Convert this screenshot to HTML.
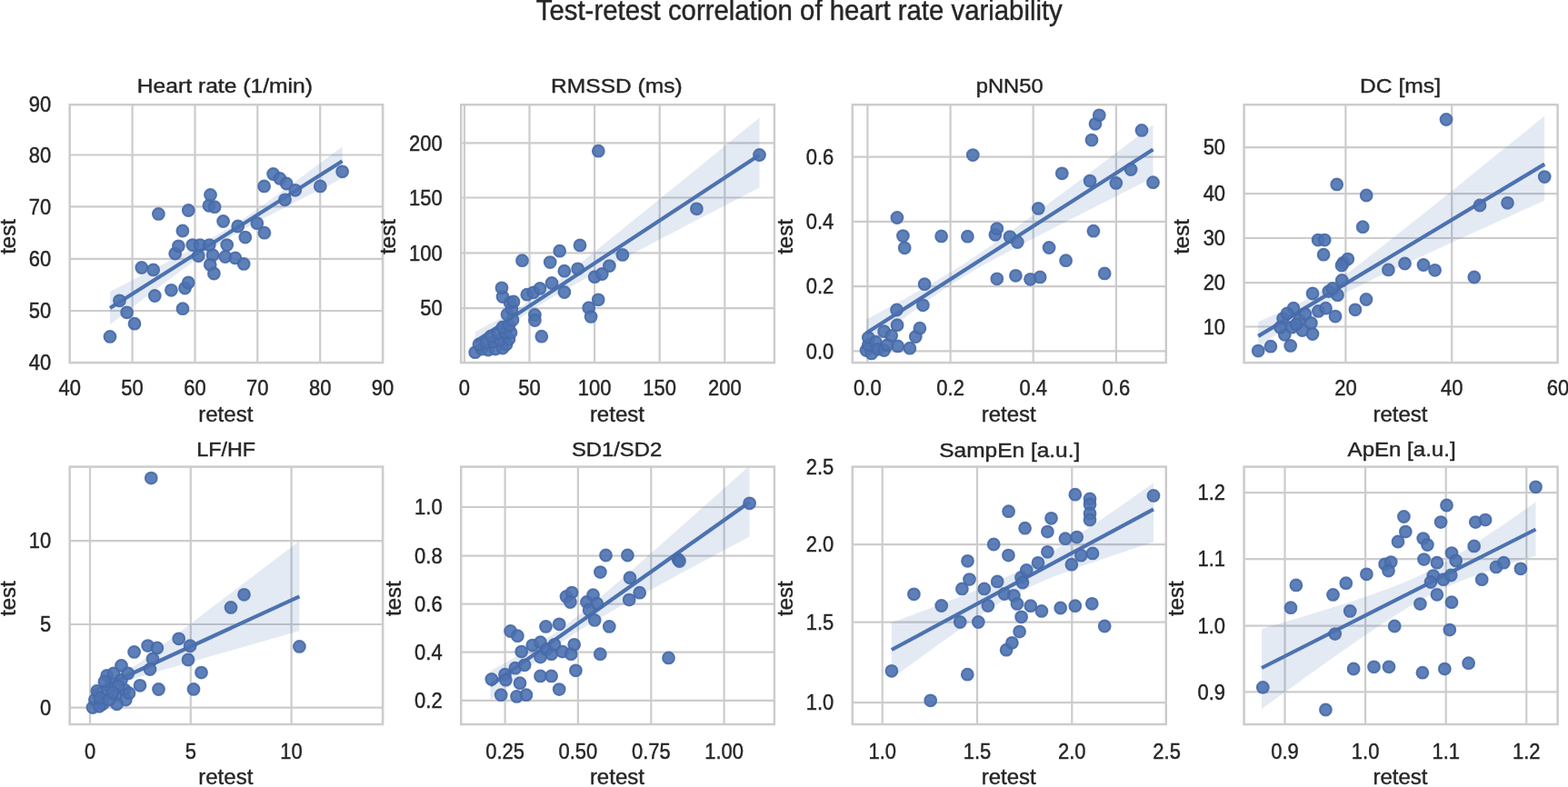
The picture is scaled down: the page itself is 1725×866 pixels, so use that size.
<!DOCTYPE html>
<html><head><meta charset="utf-8"><title>Test-retest correlation of heart rate variability</title>
<style>
html,body{margin:0;padding:0;background:#fff;}
body{width:1725px;height:866px;overflow:hidden;}
svg{display:block;font-family:"Liberation Sans",Arial,Helvetica,sans-serif;}
text{stroke:#262626;stroke-width:0.4px;}
</style></head><body>
<svg width="1725" height="866" viewBox="0 0 1725 866">
<rect width="1725" height="866" fill="#ffffff"/>
<text x="589.8" y="0" font-size="29.40" textLength="579.0" lengthAdjust="spacingAndGlyphs" fill="#262626" transform="translate(0,21.8) scale(1,1.05)">Test-retest correlation of heart rate variability</text>
<g>
<line x1="145.6" y1="115.2" x2="145.6" y2="399.1" stroke="#cccccc" stroke-width="2.2"/>
<line x1="214.5" y1="115.2" x2="214.5" y2="399.1" stroke="#cccccc" stroke-width="2.2"/>
<line x1="283.3" y1="115.2" x2="283.3" y2="399.1" stroke="#cccccc" stroke-width="2.2"/>
<line x1="352.2" y1="115.2" x2="352.2" y2="399.1" stroke="#cccccc" stroke-width="2.2"/>
<line x1="76.7" y1="342.0" x2="421.1" y2="342.0" stroke="#cccccc" stroke-width="2.2"/>
<line x1="76.7" y1="284.9" x2="421.1" y2="284.9" stroke="#cccccc" stroke-width="2.2"/>
<line x1="76.7" y1="227.3" x2="421.1" y2="227.3" stroke="#cccccc" stroke-width="2.2"/>
<line x1="76.7" y1="170.5" x2="421.1" y2="170.5" stroke="#cccccc" stroke-width="2.2"/>
<polygon points="121.0,321.0 127.6,317.6 134.1,314.3 140.7,310.9 147.2,307.5 153.8,304.2 160.3,300.8 166.9,297.4 173.4,294.0 180.0,290.5 186.5,287.1 193.1,283.7 199.6,280.2 206.2,276.7 212.8,273.2 219.3,269.6 225.9,266.0 232.4,262.3 239.0,258.5 245.5,254.6 252.1,250.6 258.6,246.5 265.2,242.3 271.7,237.9 278.3,233.4 284.8,228.9 291.4,224.3 298.0,219.6 304.5,214.8 311.1,210.1 317.6,205.3 324.2,200.4 330.7,195.6 337.3,190.7 343.8,185.8 350.4,180.9 356.9,176.0 363.5,171.1 370.0,166.2 376.6,161.3 376.6,196.3 370.0,199.6 363.5,202.9 356.9,206.2 350.4,209.4 343.8,212.7 337.3,216.1 330.7,219.4 324.2,222.7 317.6,226.0 311.1,229.4 304.5,232.8 298.0,236.2 291.4,239.6 284.8,243.1 278.3,246.6 271.7,250.2 265.2,253.9 258.6,257.7 252.1,261.6 245.5,265.7 239.0,269.9 232.4,274.2 225.9,278.7 219.3,283.3 212.8,288.0 206.2,292.8 199.6,297.6 193.1,302.4 186.5,307.3 180.0,312.2 173.4,317.1 166.9,322.1 160.3,327.0 153.8,332.0 147.2,337.0 140.7,342.0 134.1,347.0 127.6,352.0 121.0,357.0" fill="#4C72B0" fill-opacity="0.15"/>
<line x1="121.0" y1="339.0" x2="376.6" y2="177.3" stroke="#4C72B0" stroke-width="4.2" stroke-linecap="butt"/>
<circle cx="121.0" cy="370.4" r="6.4" fill="#4C72B0" fill-opacity="0.9" stroke="#4769a8" stroke-opacity="0.9" stroke-width="2"/>
<circle cx="148.0" cy="356.2" r="6.4" fill="#4C72B0" fill-opacity="0.9" stroke="#4769a8" stroke-opacity="0.9" stroke-width="2"/>
<circle cx="139.6" cy="343.8" r="6.4" fill="#4C72B0" fill-opacity="0.9" stroke="#4769a8" stroke-opacity="0.9" stroke-width="2"/>
<circle cx="131.5" cy="330.8" r="6.4" fill="#4C72B0" fill-opacity="0.9" stroke="#4769a8" stroke-opacity="0.9" stroke-width="2"/>
<circle cx="170.3" cy="325.5" r="6.4" fill="#4C72B0" fill-opacity="0.9" stroke="#4769a8" stroke-opacity="0.9" stroke-width="2"/>
<circle cx="188.4" cy="319.3" r="6.4" fill="#4C72B0" fill-opacity="0.9" stroke="#4769a8" stroke-opacity="0.9" stroke-width="2"/>
<circle cx="201.0" cy="339.7" r="6.4" fill="#4C72B0" fill-opacity="0.9" stroke="#4769a8" stroke-opacity="0.9" stroke-width="2"/>
<circle cx="203.5" cy="317.1" r="6.4" fill="#4C72B0" fill-opacity="0.9" stroke="#4769a8" stroke-opacity="0.9" stroke-width="2"/>
<circle cx="207.2" cy="311.0" r="6.4" fill="#4C72B0" fill-opacity="0.9" stroke="#4769a8" stroke-opacity="0.9" stroke-width="2"/>
<circle cx="155.8" cy="294.5" r="6.4" fill="#4C72B0" fill-opacity="0.9" stroke="#4769a8" stroke-opacity="0.9" stroke-width="2"/>
<circle cx="168.7" cy="296.9" r="6.4" fill="#4C72B0" fill-opacity="0.9" stroke="#4769a8" stroke-opacity="0.9" stroke-width="2"/>
<circle cx="192.7" cy="279.0" r="6.4" fill="#4C72B0" fill-opacity="0.9" stroke="#4769a8" stroke-opacity="0.9" stroke-width="2"/>
<circle cx="196.4" cy="270.8" r="6.4" fill="#4C72B0" fill-opacity="0.9" stroke="#4769a8" stroke-opacity="0.9" stroke-width="2"/>
<circle cx="200.9" cy="254.0" r="6.4" fill="#4C72B0" fill-opacity="0.9" stroke="#4769a8" stroke-opacity="0.9" stroke-width="2"/>
<circle cx="211.8" cy="269.6" r="6.4" fill="#4C72B0" fill-opacity="0.9" stroke="#4769a8" stroke-opacity="0.9" stroke-width="2"/>
<circle cx="220.1" cy="269.6" r="6.4" fill="#4C72B0" fill-opacity="0.9" stroke="#4769a8" stroke-opacity="0.9" stroke-width="2"/>
<circle cx="230.3" cy="269.6" r="6.4" fill="#4C72B0" fill-opacity="0.9" stroke="#4769a8" stroke-opacity="0.9" stroke-width="2"/>
<circle cx="218.3" cy="281.6" r="6.4" fill="#4C72B0" fill-opacity="0.9" stroke="#4769a8" stroke-opacity="0.9" stroke-width="2"/>
<circle cx="234.0" cy="280.7" r="6.4" fill="#4C72B0" fill-opacity="0.9" stroke="#4769a8" stroke-opacity="0.9" stroke-width="2"/>
<circle cx="231.2" cy="291.3" r="6.4" fill="#4C72B0" fill-opacity="0.9" stroke="#4769a8" stroke-opacity="0.9" stroke-width="2"/>
<circle cx="235.4" cy="301.0" r="6.4" fill="#4C72B0" fill-opacity="0.9" stroke="#4769a8" stroke-opacity="0.9" stroke-width="2"/>
<circle cx="249.7" cy="269.6" r="6.4" fill="#4C72B0" fill-opacity="0.9" stroke="#4769a8" stroke-opacity="0.9" stroke-width="2"/>
<circle cx="247.8" cy="282.5" r="6.4" fill="#4C72B0" fill-opacity="0.9" stroke="#4769a8" stroke-opacity="0.9" stroke-width="2"/>
<circle cx="258.9" cy="283.9" r="6.4" fill="#4C72B0" fill-opacity="0.9" stroke="#4769a8" stroke-opacity="0.9" stroke-width="2"/>
<circle cx="268.2" cy="290.4" r="6.4" fill="#4C72B0" fill-opacity="0.9" stroke="#4769a8" stroke-opacity="0.9" stroke-width="2"/>
<circle cx="245.6" cy="243.5" r="6.4" fill="#4C72B0" fill-opacity="0.9" stroke="#4769a8" stroke-opacity="0.9" stroke-width="2"/>
<circle cx="261.7" cy="249.0" r="6.4" fill="#4C72B0" fill-opacity="0.9" stroke="#4769a8" stroke-opacity="0.9" stroke-width="2"/>
<circle cx="269.8" cy="261.1" r="6.4" fill="#4C72B0" fill-opacity="0.9" stroke="#4769a8" stroke-opacity="0.9" stroke-width="2"/>
<circle cx="174.4" cy="235.4" r="6.4" fill="#4C72B0" fill-opacity="0.9" stroke="#4769a8" stroke-opacity="0.9" stroke-width="2"/>
<circle cx="207.3" cy="231.5" r="6.4" fill="#4C72B0" fill-opacity="0.9" stroke="#4769a8" stroke-opacity="0.9" stroke-width="2"/>
<circle cx="231.5" cy="214.5" r="6.4" fill="#4C72B0" fill-opacity="0.9" stroke="#4769a8" stroke-opacity="0.9" stroke-width="2"/>
<circle cx="229.9" cy="226.3" r="6.4" fill="#4C72B0" fill-opacity="0.9" stroke="#4769a8" stroke-opacity="0.9" stroke-width="2"/>
<circle cx="236.1" cy="227.7" r="6.4" fill="#4C72B0" fill-opacity="0.9" stroke="#4769a8" stroke-opacity="0.9" stroke-width="2"/>
<circle cx="282.8" cy="245.7" r="6.4" fill="#4C72B0" fill-opacity="0.9" stroke="#4769a8" stroke-opacity="0.9" stroke-width="2"/>
<circle cx="290.9" cy="256.2" r="6.4" fill="#4C72B0" fill-opacity="0.9" stroke="#4769a8" stroke-opacity="0.9" stroke-width="2"/>
<circle cx="290.6" cy="204.9" r="6.4" fill="#4C72B0" fill-opacity="0.9" stroke="#4769a8" stroke-opacity="0.9" stroke-width="2"/>
<circle cx="300.6" cy="191.5" r="6.4" fill="#4C72B0" fill-opacity="0.9" stroke="#4769a8" stroke-opacity="0.9" stroke-width="2"/>
<circle cx="307.9" cy="196.4" r="6.4" fill="#4C72B0" fill-opacity="0.9" stroke="#4769a8" stroke-opacity="0.9" stroke-width="2"/>
<circle cx="315.2" cy="202.0" r="6.4" fill="#4C72B0" fill-opacity="0.9" stroke="#4769a8" stroke-opacity="0.9" stroke-width="2"/>
<circle cx="324.8" cy="209.3" r="6.4" fill="#4C72B0" fill-opacity="0.9" stroke="#4769a8" stroke-opacity="0.9" stroke-width="2"/>
<circle cx="313.5" cy="219.8" r="6.4" fill="#4C72B0" fill-opacity="0.9" stroke="#4769a8" stroke-opacity="0.9" stroke-width="2"/>
<circle cx="352.3" cy="204.9" r="6.4" fill="#4C72B0" fill-opacity="0.9" stroke="#4769a8" stroke-opacity="0.9" stroke-width="2"/>
<circle cx="376.6" cy="188.8" r="6.4" fill="#4C72B0" fill-opacity="0.9" stroke="#4769a8" stroke-opacity="0.9" stroke-width="2"/>
<rect x="76.7" y="115.2" width="344.4" height="283.9" fill="none" stroke="#cccccc" stroke-width="2.5"/>
<text x="0" y="0" font-size="22" text-anchor="middle" fill="#262626" transform="translate(76.7,434.6) scale(1,1.110)">40</text>
<text x="0" y="0" font-size="22" text-anchor="middle" fill="#262626" transform="translate(145.6,434.6) scale(1,1.110)">50</text>
<text x="0" y="0" font-size="22" text-anchor="middle" fill="#262626" transform="translate(214.5,434.6) scale(1,1.110)">60</text>
<text x="0" y="0" font-size="22" text-anchor="middle" fill="#262626" transform="translate(283.3,434.6) scale(1,1.110)">70</text>
<text x="0" y="0" font-size="22" text-anchor="middle" fill="#262626" transform="translate(352.2,434.6) scale(1,1.110)">80</text>
<text x="0" y="0" font-size="22" text-anchor="middle" fill="#262626" transform="translate(421.1,434.6) scale(1,1.110)">90</text>
<text x="0" y="0" font-size="22" text-anchor="end" fill="#262626" transform="translate(56.2,407.3) scale(1,1.110)">40</text>
<text x="0" y="0" font-size="22" text-anchor="end" fill="#262626" transform="translate(56.2,350.2) scale(1,1.110)">50</text>
<text x="0" y="0" font-size="22" text-anchor="end" fill="#262626" transform="translate(56.2,293.1) scale(1,1.110)">60</text>
<text x="0" y="0" font-size="22" text-anchor="end" fill="#262626" transform="translate(56.2,235.5) scale(1,1.110)">70</text>
<text x="0" y="0" font-size="22" text-anchor="end" fill="#262626" transform="translate(56.2,178.7) scale(1,1.110)">80</text>
<text x="0" y="0" font-size="22" text-anchor="end" fill="#262626" transform="translate(56.2,123.4) scale(1,1.110)">90</text>
<text x="248.3" y="463.5" font-size="24" text-anchor="middle" fill="#262626">retest</text>
<text x="0" y="0" font-size="24" text-anchor="middle" fill="#262626" transform="translate(16.5,260.5) rotate(-90)">test</text>
<text x="150.8" y="101.8" font-size="21.6" textLength="193.2" lengthAdjust="spacingAndGlyphs" fill="#262626">Heart rate (1/min)</text>
</g>
<g>
<line x1="510.9" y1="115.2" x2="510.9" y2="399.1" stroke="#cccccc" stroke-width="2.2"/>
<line x1="582.5" y1="115.2" x2="582.5" y2="399.1" stroke="#cccccc" stroke-width="2.2"/>
<line x1="654.1" y1="115.2" x2="654.1" y2="399.1" stroke="#cccccc" stroke-width="2.2"/>
<line x1="725.7" y1="115.2" x2="725.7" y2="399.1" stroke="#cccccc" stroke-width="2.2"/>
<line x1="797.3" y1="115.2" x2="797.3" y2="399.1" stroke="#cccccc" stroke-width="2.2"/>
<line x1="507.2" y1="339.1" x2="851.9" y2="339.1" stroke="#cccccc" stroke-width="2.2"/>
<line x1="507.2" y1="278.3" x2="851.9" y2="278.3" stroke="#cccccc" stroke-width="2.2"/>
<line x1="507.2" y1="217.5" x2="851.9" y2="217.5" stroke="#cccccc" stroke-width="2.2"/>
<line x1="507.2" y1="157.3" x2="851.9" y2="157.3" stroke="#cccccc" stroke-width="2.2"/>
<polygon points="522.7,365.0 530.7,360.8 538.7,356.6 546.8,352.4 554.8,348.0 562.8,343.5 570.8,338.8 578.8,333.8 586.9,328.5 594.9,322.9 602.9,317.1 610.9,311.1 618.9,304.9 627.0,298.6 635.0,292.3 643.0,285.9 651.0,279.5 659.0,273.1 667.1,266.6 675.1,260.1 683.1,253.6 691.1,247.1 699.2,240.6 707.2,234.1 715.2,227.6 723.2,221.1 731.2,214.5 739.3,208.0 747.3,201.5 755.3,194.9 763.3,188.4 771.3,181.9 779.4,175.3 787.4,168.8 795.4,162.2 803.4,155.7 811.4,149.1 819.5,142.6 827.5,136.0 835.5,129.5 835.5,206.5 827.5,210.6 819.5,214.8 811.4,219.0 803.4,223.1 795.4,227.3 787.4,231.4 779.4,235.6 771.3,239.7 763.3,243.9 755.3,248.1 747.3,252.2 739.3,256.4 731.2,260.6 723.2,264.8 715.2,269.0 707.2,273.2 699.2,277.4 691.1,281.6 683.1,285.8 675.1,290.1 667.1,294.3 659.0,298.6 651.0,302.9 643.0,307.3 635.0,311.7 627.0,316.1 618.9,320.7 610.9,325.3 602.9,330.1 594.9,335.1 586.9,340.2 578.8,345.6 570.8,351.1 562.8,356.8 554.8,362.7 546.8,368.6 538.7,374.7 530.7,380.8 522.7,387.0" fill="#4C72B0" fill-opacity="0.15"/>
<line x1="522.7" y1="376.0" x2="835.5" y2="170.5" stroke="#4C72B0" stroke-width="4.2" stroke-linecap="butt"/>
<circle cx="522.7" cy="387.7" r="6.4" fill="#4C72B0" fill-opacity="0.9" stroke="#4769a8" stroke-opacity="0.9" stroke-width="2"/>
<circle cx="530.0" cy="384.0" r="6.4" fill="#4C72B0" fill-opacity="0.9" stroke="#4769a8" stroke-opacity="0.9" stroke-width="2"/>
<circle cx="537.0" cy="385.0" r="6.4" fill="#4C72B0" fill-opacity="0.9" stroke="#4769a8" stroke-opacity="0.9" stroke-width="2"/>
<circle cx="545.0" cy="384.0" r="6.4" fill="#4C72B0" fill-opacity="0.9" stroke="#4769a8" stroke-opacity="0.9" stroke-width="2"/>
<circle cx="553.0" cy="383.0" r="6.4" fill="#4C72B0" fill-opacity="0.9" stroke="#4769a8" stroke-opacity="0.9" stroke-width="2"/>
<circle cx="557.0" cy="379.0" r="6.4" fill="#4C72B0" fill-opacity="0.9" stroke="#4769a8" stroke-opacity="0.9" stroke-width="2"/>
<circle cx="527.0" cy="379.0" r="6.4" fill="#4C72B0" fill-opacity="0.9" stroke="#4769a8" stroke-opacity="0.9" stroke-width="2"/>
<circle cx="535.0" cy="377.0" r="6.4" fill="#4C72B0" fill-opacity="0.9" stroke="#4769a8" stroke-opacity="0.9" stroke-width="2"/>
<circle cx="543.0" cy="376.0" r="6.4" fill="#4C72B0" fill-opacity="0.9" stroke="#4769a8" stroke-opacity="0.9" stroke-width="2"/>
<circle cx="550.0" cy="374.0" r="6.4" fill="#4C72B0" fill-opacity="0.9" stroke="#4769a8" stroke-opacity="0.9" stroke-width="2"/>
<circle cx="560.0" cy="373.0" r="6.4" fill="#4C72B0" fill-opacity="0.9" stroke="#4769a8" stroke-opacity="0.9" stroke-width="2"/>
<circle cx="540.0" cy="370.0" r="6.4" fill="#4C72B0" fill-opacity="0.9" stroke="#4769a8" stroke-opacity="0.9" stroke-width="2"/>
<circle cx="548.0" cy="367.0" r="6.4" fill="#4C72B0" fill-opacity="0.9" stroke="#4769a8" stroke-opacity="0.9" stroke-width="2"/>
<circle cx="556.0" cy="366.0" r="6.4" fill="#4C72B0" fill-opacity="0.9" stroke="#4769a8" stroke-opacity="0.9" stroke-width="2"/>
<circle cx="562.0" cy="366.0" r="6.4" fill="#4C72B0" fill-opacity="0.9" stroke="#4769a8" stroke-opacity="0.9" stroke-width="2"/>
<circle cx="553.0" cy="360.0" r="6.4" fill="#4C72B0" fill-opacity="0.9" stroke="#4769a8" stroke-opacity="0.9" stroke-width="2"/>
<circle cx="560.0" cy="358.0" r="6.4" fill="#4C72B0" fill-opacity="0.9" stroke="#4769a8" stroke-opacity="0.9" stroke-width="2"/>
<circle cx="564.0" cy="352.0" r="6.4" fill="#4C72B0" fill-opacity="0.9" stroke="#4769a8" stroke-opacity="0.9" stroke-width="2"/>
<circle cx="558.0" cy="346.0" r="6.4" fill="#4C72B0" fill-opacity="0.9" stroke="#4769a8" stroke-opacity="0.9" stroke-width="2"/>
<circle cx="563.0" cy="340.0" r="6.4" fill="#4C72B0" fill-opacity="0.9" stroke="#4769a8" stroke-opacity="0.9" stroke-width="2"/>
<circle cx="561.0" cy="333.0" r="6.4" fill="#4C72B0" fill-opacity="0.9" stroke="#4769a8" stroke-opacity="0.9" stroke-width="2"/>
<circle cx="553.0" cy="326.5" r="6.4" fill="#4C72B0" fill-opacity="0.9" stroke="#4769a8" stroke-opacity="0.9" stroke-width="2"/>
<circle cx="552.0" cy="316.8" r="6.4" fill="#4C72B0" fill-opacity="0.9" stroke="#4769a8" stroke-opacity="0.9" stroke-width="2"/>
<circle cx="565.0" cy="332.0" r="6.4" fill="#4C72B0" fill-opacity="0.9" stroke="#4769a8" stroke-opacity="0.9" stroke-width="2"/>
<circle cx="574.5" cy="286.7" r="6.4" fill="#4C72B0" fill-opacity="0.9" stroke="#4769a8" stroke-opacity="0.9" stroke-width="2"/>
<circle cx="579.8" cy="324.2" r="6.4" fill="#4C72B0" fill-opacity="0.9" stroke="#4769a8" stroke-opacity="0.9" stroke-width="2"/>
<circle cx="586.8" cy="321.8" r="6.4" fill="#4C72B0" fill-opacity="0.9" stroke="#4769a8" stroke-opacity="0.9" stroke-width="2"/>
<circle cx="594.0" cy="317.4" r="6.4" fill="#4C72B0" fill-opacity="0.9" stroke="#4769a8" stroke-opacity="0.9" stroke-width="2"/>
<circle cx="588.4" cy="346.5" r="6.4" fill="#4C72B0" fill-opacity="0.9" stroke="#4769a8" stroke-opacity="0.9" stroke-width="2"/>
<circle cx="588.4" cy="352.5" r="6.4" fill="#4C72B0" fill-opacity="0.9" stroke="#4769a8" stroke-opacity="0.9" stroke-width="2"/>
<circle cx="595.8" cy="370.2" r="6.4" fill="#4C72B0" fill-opacity="0.9" stroke="#4769a8" stroke-opacity="0.9" stroke-width="2"/>
<circle cx="605.2" cy="288.6" r="6.4" fill="#4C72B0" fill-opacity="0.9" stroke="#4769a8" stroke-opacity="0.9" stroke-width="2"/>
<circle cx="607.0" cy="311.5" r="6.4" fill="#4C72B0" fill-opacity="0.9" stroke="#4769a8" stroke-opacity="0.9" stroke-width="2"/>
<circle cx="615.7" cy="276.2" r="6.4" fill="#4C72B0" fill-opacity="0.9" stroke="#4769a8" stroke-opacity="0.9" stroke-width="2"/>
<circle cx="620.8" cy="298.2" r="6.4" fill="#4C72B0" fill-opacity="0.9" stroke="#4769a8" stroke-opacity="0.9" stroke-width="2"/>
<circle cx="620.9" cy="321.5" r="6.4" fill="#4C72B0" fill-opacity="0.9" stroke="#4769a8" stroke-opacity="0.9" stroke-width="2"/>
<circle cx="635.6" cy="295.8" r="6.4" fill="#4C72B0" fill-opacity="0.9" stroke="#4769a8" stroke-opacity="0.9" stroke-width="2"/>
<circle cx="638.0" cy="269.9" r="6.4" fill="#4C72B0" fill-opacity="0.9" stroke="#4769a8" stroke-opacity="0.9" stroke-width="2"/>
<circle cx="654.2" cy="304.7" r="6.4" fill="#4C72B0" fill-opacity="0.9" stroke="#4769a8" stroke-opacity="0.9" stroke-width="2"/>
<circle cx="662.3" cy="301.5" r="6.4" fill="#4C72B0" fill-opacity="0.9" stroke="#4769a8" stroke-opacity="0.9" stroke-width="2"/>
<circle cx="670.4" cy="292.6" r="6.4" fill="#4C72B0" fill-opacity="0.9" stroke="#4769a8" stroke-opacity="0.9" stroke-width="2"/>
<circle cx="684.9" cy="280.4" r="6.4" fill="#4C72B0" fill-opacity="0.9" stroke="#4769a8" stroke-opacity="0.9" stroke-width="2"/>
<circle cx="658.2" cy="329.8" r="6.4" fill="#4C72B0" fill-opacity="0.9" stroke="#4769a8" stroke-opacity="0.9" stroke-width="2"/>
<circle cx="647.7" cy="338.7" r="6.4" fill="#4C72B0" fill-opacity="0.9" stroke="#4769a8" stroke-opacity="0.9" stroke-width="2"/>
<circle cx="650.1" cy="348.4" r="6.4" fill="#4C72B0" fill-opacity="0.9" stroke="#4769a8" stroke-opacity="0.9" stroke-width="2"/>
<circle cx="658.3" cy="166.2" r="6.4" fill="#4C72B0" fill-opacity="0.9" stroke="#4769a8" stroke-opacity="0.9" stroke-width="2"/>
<circle cx="766.4" cy="229.8" r="6.4" fill="#4C72B0" fill-opacity="0.9" stroke="#4769a8" stroke-opacity="0.9" stroke-width="2"/>
<circle cx="835.5" cy="170.5" r="6.4" fill="#4C72B0" fill-opacity="0.9" stroke="#4769a8" stroke-opacity="0.9" stroke-width="2"/>
<rect x="507.2" y="115.2" width="344.7" height="283.9" fill="none" stroke="#cccccc" stroke-width="2.5"/>
<text x="0" y="0" font-size="22" text-anchor="middle" fill="#262626" transform="translate(510.9,434.6) scale(1,1.110)">0</text>
<text x="0" y="0" font-size="22" text-anchor="middle" fill="#262626" transform="translate(582.5,434.6) scale(1,1.110)">50</text>
<text x="0" y="0" font-size="22" text-anchor="middle" fill="#262626" transform="translate(654.1,434.6) scale(1,1.110)">100</text>
<text x="0" y="0" font-size="22" text-anchor="middle" fill="#262626" transform="translate(725.7,434.6) scale(1,1.110)">150</text>
<text x="0" y="0" font-size="22" text-anchor="middle" fill="#262626" transform="translate(797.3,434.6) scale(1,1.110)">200</text>
<text x="0" y="0" font-size="22" text-anchor="end" fill="#262626" transform="translate(486.7,347.3) scale(1,1.110)">50</text>
<text x="0" y="0" font-size="22" text-anchor="end" fill="#262626" transform="translate(486.7,286.5) scale(1,1.110)">100</text>
<text x="0" y="0" font-size="22" text-anchor="end" fill="#262626" transform="translate(486.7,225.7) scale(1,1.110)">150</text>
<text x="0" y="0" font-size="22" text-anchor="end" fill="#262626" transform="translate(486.7,165.5) scale(1,1.110)">200</text>
<text x="678.9" y="463.5" font-size="24" text-anchor="middle" fill="#262626">retest</text>
<text x="0" y="0" font-size="24" text-anchor="middle" fill="#262626" transform="translate(434.8,260.5) rotate(-90)">test</text>
<text x="606.1" y="101.9" font-size="21.6" textLength="144.6" lengthAdjust="spacingAndGlyphs" fill="#262626">RMSSD (ms)</text>
</g>
<g>
<line x1="954.4" y1="115.2" x2="954.4" y2="399.1" stroke="#cccccc" stroke-width="2.2"/>
<line x1="1045.6" y1="115.2" x2="1045.6" y2="399.1" stroke="#cccccc" stroke-width="2.2"/>
<line x1="1136.7" y1="115.2" x2="1136.7" y2="399.1" stroke="#cccccc" stroke-width="2.2"/>
<line x1="1227.9" y1="115.2" x2="1227.9" y2="399.1" stroke="#cccccc" stroke-width="2.2"/>
<line x1="937.8" y1="386.4" x2="1282.8" y2="386.4" stroke="#cccccc" stroke-width="2.2"/>
<line x1="937.8" y1="315.2" x2="1282.8" y2="315.2" stroke="#cccccc" stroke-width="2.2"/>
<line x1="937.8" y1="243.9" x2="1282.8" y2="243.9" stroke="#cccccc" stroke-width="2.2"/>
<line x1="937.8" y1="172.7" x2="1282.8" y2="172.7" stroke="#cccccc" stroke-width="2.2"/>
<polygon points="953.0,351.6 961.1,347.3 969.2,342.9 977.3,338.5 985.4,334.1 993.4,329.7 1001.5,325.2 1009.6,320.7 1017.7,316.1 1025.8,311.4 1033.9,306.6 1042.0,301.8 1050.1,296.8 1058.2,291.7 1066.3,286.4 1074.3,281.0 1082.4,275.5 1090.5,269.9 1098.6,264.2 1106.7,258.5 1114.8,252.6 1122.9,246.7 1131.0,240.8 1139.1,234.9 1147.2,228.9 1155.2,222.8 1163.3,216.8 1171.4,210.7 1179.5,204.7 1187.6,198.6 1195.7,192.5 1203.8,186.4 1211.9,180.3 1220.0,174.2 1228.1,168.1 1236.1,161.9 1244.2,155.8 1252.3,149.7 1260.4,143.5 1268.5,137.4 1268.5,195.4 1260.4,199.5 1252.3,203.6 1244.2,207.7 1236.1,211.8 1228.1,215.9 1220.0,220.0 1211.9,224.1 1203.8,228.2 1195.7,232.3 1187.6,236.4 1179.5,240.5 1171.4,244.6 1163.3,248.8 1155.2,252.9 1147.2,257.1 1139.1,261.3 1131.0,265.5 1122.9,269.7 1114.8,274.0 1106.7,278.3 1098.6,282.6 1090.5,287.0 1082.4,291.5 1074.3,296.1 1066.3,300.9 1058.2,305.8 1050.1,310.9 1042.0,316.1 1033.9,321.6 1025.8,327.3 1017.7,333.0 1009.6,338.9 1001.5,344.9 993.4,350.9 985.4,357.0 977.3,363.1 969.2,369.2 961.1,375.4 953.0,381.6" fill="#4C72B0" fill-opacity="0.15"/>
<line x1="953.0" y1="366.6" x2="1268.5" y2="164.4" stroke="#4C72B0" stroke-width="4.2" stroke-linecap="butt"/>
<circle cx="953.0" cy="385.5" r="6.4" fill="#4C72B0" fill-opacity="0.9" stroke="#4769a8" stroke-opacity="0.9" stroke-width="2"/>
<circle cx="958.8" cy="388.9" r="6.4" fill="#4C72B0" fill-opacity="0.9" stroke="#4769a8" stroke-opacity="0.9" stroke-width="2"/>
<circle cx="955.3" cy="379.7" r="6.4" fill="#4C72B0" fill-opacity="0.9" stroke="#4769a8" stroke-opacity="0.9" stroke-width="2"/>
<circle cx="955.3" cy="371.6" r="6.4" fill="#4C72B0" fill-opacity="0.9" stroke="#4769a8" stroke-opacity="0.9" stroke-width="2"/>
<circle cx="963.4" cy="376.2" r="6.4" fill="#4C72B0" fill-opacity="0.9" stroke="#4769a8" stroke-opacity="0.9" stroke-width="2"/>
<circle cx="965.7" cy="384.3" r="6.4" fill="#4C72B0" fill-opacity="0.9" stroke="#4769a8" stroke-opacity="0.9" stroke-width="2"/>
<circle cx="972.6" cy="385.5" r="6.4" fill="#4C72B0" fill-opacity="0.9" stroke="#4769a8" stroke-opacity="0.9" stroke-width="2"/>
<circle cx="972.6" cy="364.7" r="6.4" fill="#4C72B0" fill-opacity="0.9" stroke="#4769a8" stroke-opacity="0.9" stroke-width="2"/>
<circle cx="976.1" cy="379.7" r="6.4" fill="#4C72B0" fill-opacity="0.9" stroke="#4769a8" stroke-opacity="0.9" stroke-width="2"/>
<circle cx="980.7" cy="369.3" r="6.4" fill="#4C72B0" fill-opacity="0.9" stroke="#4769a8" stroke-opacity="0.9" stroke-width="2"/>
<circle cx="987.7" cy="380.9" r="6.4" fill="#4C72B0" fill-opacity="0.9" stroke="#4769a8" stroke-opacity="0.9" stroke-width="2"/>
<circle cx="1000.9" cy="383.2" r="6.4" fill="#4C72B0" fill-opacity="0.9" stroke="#4769a8" stroke-opacity="0.9" stroke-width="2"/>
<circle cx="1007.3" cy="370.5" r="6.4" fill="#4C72B0" fill-opacity="0.9" stroke="#4769a8" stroke-opacity="0.9" stroke-width="2"/>
<circle cx="1011.9" cy="361.2" r="6.4" fill="#4C72B0" fill-opacity="0.9" stroke="#4769a8" stroke-opacity="0.9" stroke-width="2"/>
<circle cx="987.1" cy="357.7" r="6.4" fill="#4C72B0" fill-opacity="0.9" stroke="#4769a8" stroke-opacity="0.9" stroke-width="2"/>
<circle cx="986.5" cy="341.0" r="6.4" fill="#4C72B0" fill-opacity="0.9" stroke="#4769a8" stroke-opacity="0.9" stroke-width="2"/>
<circle cx="1015.4" cy="335.8" r="6.4" fill="#4C72B0" fill-opacity="0.9" stroke="#4769a8" stroke-opacity="0.9" stroke-width="2"/>
<circle cx="1017.1" cy="312.7" r="6.4" fill="#4C72B0" fill-opacity="0.9" stroke="#4769a8" stroke-opacity="0.9" stroke-width="2"/>
<circle cx="986.9" cy="239.5" r="6.4" fill="#4C72B0" fill-opacity="0.9" stroke="#4769a8" stroke-opacity="0.9" stroke-width="2"/>
<circle cx="993.4" cy="259.6" r="6.4" fill="#4C72B0" fill-opacity="0.9" stroke="#4769a8" stroke-opacity="0.9" stroke-width="2"/>
<circle cx="995.2" cy="272.8" r="6.4" fill="#4C72B0" fill-opacity="0.9" stroke="#4769a8" stroke-opacity="0.9" stroke-width="2"/>
<circle cx="1035.6" cy="259.9" r="6.4" fill="#4C72B0" fill-opacity="0.9" stroke="#4769a8" stroke-opacity="0.9" stroke-width="2"/>
<circle cx="1064.4" cy="260.2" r="6.4" fill="#4C72B0" fill-opacity="0.9" stroke="#4769a8" stroke-opacity="0.9" stroke-width="2"/>
<circle cx="1070.3" cy="170.6" r="6.4" fill="#4C72B0" fill-opacity="0.9" stroke="#4769a8" stroke-opacity="0.9" stroke-width="2"/>
<circle cx="1094.9" cy="258.3" r="6.4" fill="#4C72B0" fill-opacity="0.9" stroke="#4769a8" stroke-opacity="0.9" stroke-width="2"/>
<circle cx="1096.8" cy="251.6" r="6.4" fill="#4C72B0" fill-opacity="0.9" stroke="#4769a8" stroke-opacity="0.9" stroke-width="2"/>
<circle cx="1111.0" cy="260.6" r="6.4" fill="#4C72B0" fill-opacity="0.9" stroke="#4769a8" stroke-opacity="0.9" stroke-width="2"/>
<circle cx="1119.3" cy="266.5" r="6.4" fill="#4C72B0" fill-opacity="0.9" stroke="#4769a8" stroke-opacity="0.9" stroke-width="2"/>
<circle cx="1142.3" cy="229.4" r="6.4" fill="#4C72B0" fill-opacity="0.9" stroke="#4769a8" stroke-opacity="0.9" stroke-width="2"/>
<circle cx="1154.1" cy="272.5" r="6.4" fill="#4C72B0" fill-opacity="0.9" stroke="#4769a8" stroke-opacity="0.9" stroke-width="2"/>
<circle cx="1172.6" cy="286.7" r="6.4" fill="#4C72B0" fill-opacity="0.9" stroke="#4769a8" stroke-opacity="0.9" stroke-width="2"/>
<circle cx="1096.8" cy="306.8" r="6.4" fill="#4C72B0" fill-opacity="0.9" stroke="#4769a8" stroke-opacity="0.9" stroke-width="2"/>
<circle cx="1117.4" cy="303.3" r="6.4" fill="#4C72B0" fill-opacity="0.9" stroke="#4769a8" stroke-opacity="0.9" stroke-width="2"/>
<circle cx="1133.5" cy="307.3" r="6.4" fill="#4C72B0" fill-opacity="0.9" stroke="#4769a8" stroke-opacity="0.9" stroke-width="2"/>
<circle cx="1144.2" cy="304.9" r="6.4" fill="#4C72B0" fill-opacity="0.9" stroke="#4769a8" stroke-opacity="0.9" stroke-width="2"/>
<circle cx="1168.3" cy="190.8" r="6.4" fill="#4C72B0" fill-opacity="0.9" stroke="#4769a8" stroke-opacity="0.9" stroke-width="2"/>
<circle cx="1199.1" cy="199.1" r="6.4" fill="#4C72B0" fill-opacity="0.9" stroke="#4769a8" stroke-opacity="0.9" stroke-width="2"/>
<circle cx="1202.9" cy="254.2" r="6.4" fill="#4C72B0" fill-opacity="0.9" stroke="#4769a8" stroke-opacity="0.9" stroke-width="2"/>
<circle cx="1215.2" cy="300.9" r="6.4" fill="#4C72B0" fill-opacity="0.9" stroke="#4769a8" stroke-opacity="0.9" stroke-width="2"/>
<circle cx="1201.0" cy="154.1" r="6.4" fill="#4C72B0" fill-opacity="0.9" stroke="#4769a8" stroke-opacity="0.9" stroke-width="2"/>
<circle cx="1205.0" cy="136.3" r="6.4" fill="#4C72B0" fill-opacity="0.9" stroke="#4769a8" stroke-opacity="0.9" stroke-width="2"/>
<circle cx="1209.3" cy="126.8" r="6.4" fill="#4C72B0" fill-opacity="0.9" stroke="#4769a8" stroke-opacity="0.9" stroke-width="2"/>
<circle cx="1227.8" cy="201.4" r="6.4" fill="#4C72B0" fill-opacity="0.9" stroke="#4769a8" stroke-opacity="0.9" stroke-width="2"/>
<circle cx="1244.1" cy="186.5" r="6.4" fill="#4C72B0" fill-opacity="0.9" stroke="#4769a8" stroke-opacity="0.9" stroke-width="2"/>
<circle cx="1256.0" cy="143.4" r="6.4" fill="#4C72B0" fill-opacity="0.9" stroke="#4769a8" stroke-opacity="0.9" stroke-width="2"/>
<circle cx="1268.5" cy="200.7" r="6.4" fill="#4C72B0" fill-opacity="0.9" stroke="#4769a8" stroke-opacity="0.9" stroke-width="2"/>
<rect x="937.8" y="115.2" width="345.0" height="283.9" fill="none" stroke="#cccccc" stroke-width="2.5"/>
<text x="0" y="0" font-size="22" text-anchor="middle" fill="#262626" transform="translate(954.4,434.6) scale(1,1.110)">0.0</text>
<text x="0" y="0" font-size="22" text-anchor="middle" fill="#262626" transform="translate(1045.6,434.6) scale(1,1.110)">0.2</text>
<text x="0" y="0" font-size="22" text-anchor="middle" fill="#262626" transform="translate(1136.7,434.6) scale(1,1.110)">0.4</text>
<text x="0" y="0" font-size="22" text-anchor="middle" fill="#262626" transform="translate(1227.9,434.6) scale(1,1.110)">0.6</text>
<text x="0" y="0" font-size="22" text-anchor="end" fill="#262626" transform="translate(917.3,394.6) scale(1,1.110)">0.0</text>
<text x="0" y="0" font-size="22" text-anchor="end" fill="#262626" transform="translate(917.3,323.4) scale(1,1.110)">0.2</text>
<text x="0" y="0" font-size="22" text-anchor="end" fill="#262626" transform="translate(917.3,252.1) scale(1,1.110)">0.4</text>
<text x="0" y="0" font-size="22" text-anchor="end" fill="#262626" transform="translate(917.3,180.9) scale(1,1.110)">0.6</text>
<text x="1109.7" y="463.5" font-size="24" text-anchor="middle" fill="#262626">retest</text>
<text x="0" y="0" font-size="24" text-anchor="middle" fill="#262626" transform="translate(871.5,260.5) rotate(-90)">test</text>
<text x="1073.8" y="101.5" font-size="21.6" textLength="73.8" lengthAdjust="spacingAndGlyphs" fill="#262626">pNN50</text>
</g>
<g>
<line x1="1480.4" y1="115.2" x2="1480.4" y2="399.1" stroke="#cccccc" stroke-width="2.2"/>
<line x1="1597.2" y1="115.2" x2="1597.2" y2="399.1" stroke="#cccccc" stroke-width="2.2"/>
<line x1="1368.6" y1="359.5" x2="1713.6" y2="359.5" stroke="#cccccc" stroke-width="2.2"/>
<line x1="1368.6" y1="311.2" x2="1713.6" y2="311.2" stroke="#cccccc" stroke-width="2.2"/>
<line x1="1368.6" y1="262.0" x2="1713.6" y2="262.0" stroke="#cccccc" stroke-width="2.2"/>
<line x1="1368.6" y1="213.1" x2="1713.6" y2="213.1" stroke="#cccccc" stroke-width="2.2"/>
<line x1="1368.6" y1="162.1" x2="1713.6" y2="162.1" stroke="#cccccc" stroke-width="2.2"/>
<polygon points="1384.2,353.9 1392.3,350.5 1400.4,347.1 1408.4,343.5 1416.5,339.9 1424.6,336.1 1432.7,332.1 1440.7,327.8 1448.8,323.2 1456.9,318.3 1465.0,313.0 1473.0,307.3 1481.1,301.5 1489.2,295.5 1497.3,289.4 1505.4,283.1 1513.4,276.8 1521.5,270.5 1529.6,264.1 1537.7,257.7 1545.7,251.3 1553.8,244.8 1561.9,238.4 1570.0,231.9 1578.0,225.4 1586.1,218.9 1594.2,212.4 1602.3,205.9 1610.4,199.4 1618.4,192.9 1626.5,186.4 1634.6,179.8 1642.7,173.3 1650.7,166.8 1658.8,160.3 1666.9,153.7 1675.0,147.2 1683.0,140.7 1691.1,134.1 1699.2,127.6 1699.2,220.6 1691.1,224.3 1683.0,227.9 1675.0,231.6 1666.9,235.2 1658.8,238.9 1650.7,242.5 1642.7,246.2 1634.6,249.9 1626.5,253.5 1618.4,257.2 1610.4,260.9 1602.3,264.6 1594.2,268.3 1586.1,272.0 1578.0,275.7 1570.0,279.4 1561.9,283.1 1553.8,286.8 1545.7,290.6 1537.7,294.4 1529.6,298.2 1521.5,302.0 1513.4,305.8 1505.4,309.7 1497.3,313.7 1489.2,317.7 1481.1,321.8 1473.0,325.9 1465.0,330.2 1456.9,334.7 1448.8,339.3 1440.7,344.1 1432.7,349.1 1424.6,354.2 1416.5,359.5 1408.4,365.0 1400.4,370.5 1392.3,376.2 1384.2,381.9" fill="#4C72B0" fill-opacity="0.15"/>
<line x1="1384.2" y1="369.9" x2="1699.2" y2="180.6" stroke="#4C72B0" stroke-width="4.2" stroke-linecap="butt"/>
<circle cx="1384.2" cy="386.1" r="6.4" fill="#4C72B0" fill-opacity="0.9" stroke="#4769a8" stroke-opacity="0.9" stroke-width="2"/>
<circle cx="1397.9" cy="381.2" r="6.4" fill="#4C72B0" fill-opacity="0.9" stroke="#4769a8" stroke-opacity="0.9" stroke-width="2"/>
<circle cx="1419.7" cy="380.4" r="6.4" fill="#4C72B0" fill-opacity="0.9" stroke="#4769a8" stroke-opacity="0.9" stroke-width="2"/>
<circle cx="1444.0" cy="367.5" r="6.4" fill="#4C72B0" fill-opacity="0.9" stroke="#4769a8" stroke-opacity="0.9" stroke-width="2"/>
<circle cx="1413.3" cy="368.3" r="6.4" fill="#4C72B0" fill-opacity="0.9" stroke="#4769a8" stroke-opacity="0.9" stroke-width="2"/>
<circle cx="1411.6" cy="350.5" r="6.4" fill="#4C72B0" fill-opacity="0.9" stroke="#4769a8" stroke-opacity="0.9" stroke-width="2"/>
<circle cx="1423.0" cy="339.2" r="6.4" fill="#4C72B0" fill-opacity="0.9" stroke="#4769a8" stroke-opacity="0.9" stroke-width="2"/>
<circle cx="1429.4" cy="352.1" r="6.4" fill="#4C72B0" fill-opacity="0.9" stroke="#4769a8" stroke-opacity="0.9" stroke-width="2"/>
<circle cx="1435.9" cy="345.7" r="6.4" fill="#4C72B0" fill-opacity="0.9" stroke="#4769a8" stroke-opacity="0.9" stroke-width="2"/>
<circle cx="1421.3" cy="360.2" r="6.4" fill="#4C72B0" fill-opacity="0.9" stroke="#4769a8" stroke-opacity="0.9" stroke-width="2"/>
<circle cx="1432.7" cy="363.5" r="6.4" fill="#4C72B0" fill-opacity="0.9" stroke="#4769a8" stroke-opacity="0.9" stroke-width="2"/>
<circle cx="1408.4" cy="360.2" r="6.4" fill="#4C72B0" fill-opacity="0.9" stroke="#4769a8" stroke-opacity="0.9" stroke-width="2"/>
<circle cx="1442.4" cy="355.4" r="6.4" fill="#4C72B0" fill-opacity="0.9" stroke="#4769a8" stroke-opacity="0.9" stroke-width="2"/>
<circle cx="1450.4" cy="342.4" r="6.4" fill="#4C72B0" fill-opacity="0.9" stroke="#4769a8" stroke-opacity="0.9" stroke-width="2"/>
<circle cx="1458.5" cy="339.2" r="6.4" fill="#4C72B0" fill-opacity="0.9" stroke="#4769a8" stroke-opacity="0.9" stroke-width="2"/>
<circle cx="1469.0" cy="348.1" r="6.4" fill="#4C72B0" fill-opacity="0.9" stroke="#4769a8" stroke-opacity="0.9" stroke-width="2"/>
<circle cx="1444.0" cy="323.0" r="6.4" fill="#4C72B0" fill-opacity="0.9" stroke="#4769a8" stroke-opacity="0.9" stroke-width="2"/>
<circle cx="1461.8" cy="320.6" r="6.4" fill="#4C72B0" fill-opacity="0.9" stroke="#4769a8" stroke-opacity="0.9" stroke-width="2"/>
<circle cx="1471.5" cy="324.7" r="6.4" fill="#4C72B0" fill-opacity="0.9" stroke="#4769a8" stroke-opacity="0.9" stroke-width="2"/>
<circle cx="1476.3" cy="308.5" r="6.4" fill="#4C72B0" fill-opacity="0.9" stroke="#4769a8" stroke-opacity="0.9" stroke-width="2"/>
<circle cx="1477.9" cy="289.1" r="6.4" fill="#4C72B0" fill-opacity="0.9" stroke="#4769a8" stroke-opacity="0.9" stroke-width="2"/>
<circle cx="1482.8" cy="285.1" r="6.4" fill="#4C72B0" fill-opacity="0.9" stroke="#4769a8" stroke-opacity="0.9" stroke-width="2"/>
<circle cx="1456.1" cy="280.2" r="6.4" fill="#4C72B0" fill-opacity="0.9" stroke="#4769a8" stroke-opacity="0.9" stroke-width="2"/>
<circle cx="1450.1" cy="264.1" r="6.4" fill="#4C72B0" fill-opacity="0.9" stroke="#4769a8" stroke-opacity="0.9" stroke-width="2"/>
<circle cx="1457.2" cy="264.1" r="6.4" fill="#4C72B0" fill-opacity="0.9" stroke="#4769a8" stroke-opacity="0.9" stroke-width="2"/>
<circle cx="1490.9" cy="340.8" r="6.4" fill="#4C72B0" fill-opacity="0.9" stroke="#4769a8" stroke-opacity="0.9" stroke-width="2"/>
<circle cx="1503.0" cy="329.5" r="6.4" fill="#4C72B0" fill-opacity="0.9" stroke="#4769a8" stroke-opacity="0.9" stroke-width="2"/>
<circle cx="1470.7" cy="202.9" r="6.4" fill="#4C72B0" fill-opacity="0.9" stroke="#4769a8" stroke-opacity="0.9" stroke-width="2"/>
<circle cx="1503.2" cy="215.0" r="6.4" fill="#4C72B0" fill-opacity="0.9" stroke="#4769a8" stroke-opacity="0.9" stroke-width="2"/>
<circle cx="1499.2" cy="249.7" r="6.4" fill="#4C72B0" fill-opacity="0.9" stroke="#4769a8" stroke-opacity="0.9" stroke-width="2"/>
<circle cx="1545.5" cy="290.0" r="6.4" fill="#4C72B0" fill-opacity="0.9" stroke="#4769a8" stroke-opacity="0.9" stroke-width="2"/>
<circle cx="1566.0" cy="291.5" r="6.4" fill="#4C72B0" fill-opacity="0.9" stroke="#4769a8" stroke-opacity="0.9" stroke-width="2"/>
<circle cx="1527.4" cy="296.9" r="6.4" fill="#4C72B0" fill-opacity="0.9" stroke="#4769a8" stroke-opacity="0.9" stroke-width="2"/>
<circle cx="1578.6" cy="297.3" r="6.4" fill="#4C72B0" fill-opacity="0.9" stroke="#4769a8" stroke-opacity="0.9" stroke-width="2"/>
<circle cx="1621.8" cy="305.0" r="6.4" fill="#4C72B0" fill-opacity="0.9" stroke="#4769a8" stroke-opacity="0.9" stroke-width="2"/>
<circle cx="1628.0" cy="226.0" r="6.4" fill="#4C72B0" fill-opacity="0.9" stroke="#4769a8" stroke-opacity="0.9" stroke-width="2"/>
<circle cx="1658.5" cy="223.3" r="6.4" fill="#4C72B0" fill-opacity="0.9" stroke="#4769a8" stroke-opacity="0.9" stroke-width="2"/>
<circle cx="1699.2" cy="194.6" r="6.4" fill="#4C72B0" fill-opacity="0.9" stroke="#4769a8" stroke-opacity="0.9" stroke-width="2"/>
<circle cx="1591.0" cy="131.5" r="6.4" fill="#4C72B0" fill-opacity="0.9" stroke="#4769a8" stroke-opacity="0.9" stroke-width="2"/>
<circle cx="1416.0" cy="345.0" r="6.4" fill="#4C72B0" fill-opacity="0.9" stroke="#4769a8" stroke-opacity="0.9" stroke-width="2"/>
<circle cx="1426.0" cy="357.0" r="6.4" fill="#4C72B0" fill-opacity="0.9" stroke="#4769a8" stroke-opacity="0.9" stroke-width="2"/>
<circle cx="1466.0" cy="317.5" r="6.4" fill="#4C72B0" fill-opacity="0.9" stroke="#4769a8" stroke-opacity="0.9" stroke-width="2"/>
<circle cx="1476.0" cy="292.0" r="6.4" fill="#4C72B0" fill-opacity="0.9" stroke="#4769a8" stroke-opacity="0.9" stroke-width="2"/>
<rect x="1368.6" y="115.2" width="345.0" height="283.9" fill="none" stroke="#cccccc" stroke-width="2.5"/>
<text x="0" y="0" font-size="22" text-anchor="middle" fill="#262626" transform="translate(1480.4,434.6) scale(1,1.110)">20</text>
<text x="0" y="0" font-size="22" text-anchor="middle" fill="#262626" transform="translate(1597.2,434.6) scale(1,1.110)">40</text>
<text x="0" y="0" font-size="22" text-anchor="middle" fill="#262626" transform="translate(1714.0,434.6) scale(1,1.110)">60</text>
<text x="0" y="0" font-size="22" text-anchor="end" fill="#262626" transform="translate(1348.1,367.7) scale(1,1.110)">10</text>
<text x="0" y="0" font-size="22" text-anchor="end" fill="#262626" transform="translate(1348.1,319.4) scale(1,1.110)">20</text>
<text x="0" y="0" font-size="22" text-anchor="end" fill="#262626" transform="translate(1348.1,270.2) scale(1,1.110)">30</text>
<text x="0" y="0" font-size="22" text-anchor="end" fill="#262626" transform="translate(1348.1,221.3) scale(1,1.110)">40</text>
<text x="0" y="0" font-size="22" text-anchor="end" fill="#262626" transform="translate(1348.1,170.3) scale(1,1.110)">50</text>
<text x="1540.5" y="463.5" font-size="24" text-anchor="middle" fill="#262626">retest</text>
<text x="0" y="0" font-size="24" text-anchor="middle" fill="#262626" transform="translate(1308.4,260.5) rotate(-90)">test</text>
<text x="1496.1" y="101.8" font-size="21.6" textLength="88.9" lengthAdjust="spacingAndGlyphs" fill="#262626">DC [ms]</text>
</g>
<g>
<line x1="99.0" y1="513.6" x2="99.0" y2="797.0" stroke="#cccccc" stroke-width="2.2"/>
<line x1="209.8" y1="513.6" x2="209.8" y2="797.0" stroke="#cccccc" stroke-width="2.2"/>
<line x1="320.6" y1="513.6" x2="320.6" y2="797.0" stroke="#cccccc" stroke-width="2.2"/>
<line x1="76.7" y1="778.7" x2="421.1" y2="778.7" stroke="#cccccc" stroke-width="2.2"/>
<line x1="76.7" y1="687.0" x2="421.1" y2="687.0" stroke="#cccccc" stroke-width="2.2"/>
<line x1="76.7" y1="595.2" x2="421.1" y2="595.2" stroke="#cccccc" stroke-width="2.2"/>
<polygon points="102.0,753.0 107.8,750.4 113.7,747.9 119.5,745.3 125.3,742.7 131.2,740.2 137.0,737.6 142.8,735.1 148.6,732.5 154.5,728.5 160.3,724.0 166.1,719.5 172.0,715.1 177.8,710.6 183.6,706.2 189.5,701.7 195.3,697.2 201.1,692.8 207.0,688.3 212.8,683.9 218.6,679.4 224.4,675.0 230.3,670.6 236.1,666.1 241.9,661.7 247.8,657.3 253.6,652.9 259.4,648.4 265.3,644.0 271.1,639.6 276.9,635.2 282.8,630.7 288.6,626.3 294.4,621.9 300.2,617.4 306.1,613.0 311.9,608.6 317.7,604.2 323.6,599.7 329.4,595.3 329.4,694.3 323.6,696.0 317.7,697.6 311.9,699.3 306.1,701.0 300.2,702.6 294.4,704.3 288.6,706.0 282.8,707.6 276.9,709.3 271.1,711.0 265.3,712.6 259.4,714.3 253.6,716.0 247.8,717.6 241.9,719.3 236.1,721.0 230.3,722.6 224.4,724.3 218.6,726.0 212.8,727.7 207.0,729.3 201.1,731.0 195.3,732.7 189.5,734.4 183.6,736.1 177.8,737.8 172.0,739.5 166.1,741.2 160.3,742.9 154.5,744.6 148.6,746.6 142.8,749.4 137.0,752.2 131.2,755.0 125.3,757.8 119.5,760.6 113.7,763.4 107.8,766.2 102.0,769.0" fill="#4C72B0" fill-opacity="0.15"/>
<line x1="102.0" y1="761.0" x2="329.4" y2="656.3" stroke="#4C72B0" stroke-width="4.2" stroke-linecap="butt"/>
<circle cx="102.0" cy="778.5" r="6.4" fill="#4C72B0" fill-opacity="0.9" stroke="#4769a8" stroke-opacity="0.9" stroke-width="2"/>
<circle cx="104.4" cy="770.0" r="6.4" fill="#4C72B0" fill-opacity="0.9" stroke="#4769a8" stroke-opacity="0.9" stroke-width="2"/>
<circle cx="106.8" cy="760.3" r="6.4" fill="#4C72B0" fill-opacity="0.9" stroke="#4769a8" stroke-opacity="0.9" stroke-width="2"/>
<circle cx="112.9" cy="774.8" r="6.4" fill="#4C72B0" fill-opacity="0.9" stroke="#4769a8" stroke-opacity="0.9" stroke-width="2"/>
<circle cx="116.5" cy="765.2" r="6.4" fill="#4C72B0" fill-opacity="0.9" stroke="#4769a8" stroke-opacity="0.9" stroke-width="2"/>
<circle cx="117.7" cy="743.3" r="6.4" fill="#4C72B0" fill-opacity="0.9" stroke="#4769a8" stroke-opacity="0.9" stroke-width="2"/>
<circle cx="121.4" cy="755.5" r="6.4" fill="#4C72B0" fill-opacity="0.9" stroke="#4769a8" stroke-opacity="0.9" stroke-width="2"/>
<circle cx="125.0" cy="740.9" r="6.4" fill="#4C72B0" fill-opacity="0.9" stroke="#4769a8" stroke-opacity="0.9" stroke-width="2"/>
<circle cx="127.4" cy="765.2" r="6.4" fill="#4C72B0" fill-opacity="0.9" stroke="#4769a8" stroke-opacity="0.9" stroke-width="2"/>
<circle cx="133.5" cy="732.4" r="6.4" fill="#4C72B0" fill-opacity="0.9" stroke="#4769a8" stroke-opacity="0.9" stroke-width="2"/>
<circle cx="133.5" cy="748.2" r="6.4" fill="#4C72B0" fill-opacity="0.9" stroke="#4769a8" stroke-opacity="0.9" stroke-width="2"/>
<circle cx="137.1" cy="759.1" r="6.4" fill="#4C72B0" fill-opacity="0.9" stroke="#4769a8" stroke-opacity="0.9" stroke-width="2"/>
<circle cx="138.3" cy="770.0" r="6.4" fill="#4C72B0" fill-opacity="0.9" stroke="#4769a8" stroke-opacity="0.9" stroke-width="2"/>
<circle cx="142.0" cy="762.7" r="6.4" fill="#4C72B0" fill-opacity="0.9" stroke="#4769a8" stroke-opacity="0.9" stroke-width="2"/>
<circle cx="140.8" cy="740.9" r="6.4" fill="#4C72B0" fill-opacity="0.9" stroke="#4769a8" stroke-opacity="0.9" stroke-width="2"/>
<circle cx="109.2" cy="777.3" r="6.4" fill="#4C72B0" fill-opacity="0.9" stroke="#4769a8" stroke-opacity="0.9" stroke-width="2"/>
<circle cx="128.6" cy="774.8" r="6.4" fill="#4C72B0" fill-opacity="0.9" stroke="#4769a8" stroke-opacity="0.9" stroke-width="2"/>
<circle cx="147.6" cy="717.4" r="6.4" fill="#4C72B0" fill-opacity="0.9" stroke="#4769a8" stroke-opacity="0.9" stroke-width="2"/>
<circle cx="162.6" cy="710.6" r="6.4" fill="#4C72B0" fill-opacity="0.9" stroke="#4769a8" stroke-opacity="0.9" stroke-width="2"/>
<circle cx="172.9" cy="713.0" r="6.4" fill="#4C72B0" fill-opacity="0.9" stroke="#4769a8" stroke-opacity="0.9" stroke-width="2"/>
<circle cx="168.0" cy="725.0" r="6.4" fill="#4C72B0" fill-opacity="0.9" stroke="#4769a8" stroke-opacity="0.9" stroke-width="2"/>
<circle cx="165.0" cy="736.5" r="6.4" fill="#4C72B0" fill-opacity="0.9" stroke="#4769a8" stroke-opacity="0.9" stroke-width="2"/>
<circle cx="154.0" cy="754.3" r="6.4" fill="#4C72B0" fill-opacity="0.9" stroke="#4769a8" stroke-opacity="0.9" stroke-width="2"/>
<circle cx="174.5" cy="758.5" r="6.4" fill="#4C72B0" fill-opacity="0.9" stroke="#4769a8" stroke-opacity="0.9" stroke-width="2"/>
<circle cx="196.7" cy="702.8" r="6.4" fill="#4C72B0" fill-opacity="0.9" stroke="#4769a8" stroke-opacity="0.9" stroke-width="2"/>
<circle cx="209.1" cy="710.7" r="6.4" fill="#4C72B0" fill-opacity="0.9" stroke="#4769a8" stroke-opacity="0.9" stroke-width="2"/>
<circle cx="207.0" cy="726.0" r="6.4" fill="#4C72B0" fill-opacity="0.9" stroke="#4769a8" stroke-opacity="0.9" stroke-width="2"/>
<circle cx="221.5" cy="740.1" r="6.4" fill="#4C72B0" fill-opacity="0.9" stroke="#4769a8" stroke-opacity="0.9" stroke-width="2"/>
<circle cx="213.0" cy="758.4" r="6.4" fill="#4C72B0" fill-opacity="0.9" stroke="#4769a8" stroke-opacity="0.9" stroke-width="2"/>
<circle cx="254.0" cy="668.4" r="6.4" fill="#4C72B0" fill-opacity="0.9" stroke="#4769a8" stroke-opacity="0.9" stroke-width="2"/>
<circle cx="268.5" cy="654.3" r="6.4" fill="#4C72B0" fill-opacity="0.9" stroke="#4769a8" stroke-opacity="0.9" stroke-width="2"/>
<circle cx="329.4" cy="711.4" r="6.4" fill="#4C72B0" fill-opacity="0.9" stroke="#4769a8" stroke-opacity="0.9" stroke-width="2"/>
<circle cx="166.3" cy="526.1" r="6.4" fill="#4C72B0" fill-opacity="0.9" stroke="#4769a8" stroke-opacity="0.9" stroke-width="2"/>
<circle cx="110.0" cy="768.0" r="6.4" fill="#4C72B0" fill-opacity="0.9" stroke="#4769a8" stroke-opacity="0.9" stroke-width="2"/>
<circle cx="120.0" cy="770.0" r="6.4" fill="#4C72B0" fill-opacity="0.9" stroke="#4769a8" stroke-opacity="0.9" stroke-width="2"/>
<circle cx="130.0" cy="755.0" r="6.4" fill="#4C72B0" fill-opacity="0.9" stroke="#4769a8" stroke-opacity="0.9" stroke-width="2"/>
<circle cx="115.0" cy="750.0" r="6.4" fill="#4C72B0" fill-opacity="0.9" stroke="#4769a8" stroke-opacity="0.9" stroke-width="2"/>
<circle cx="124.0" cy="762.0" r="6.4" fill="#4C72B0" fill-opacity="0.9" stroke="#4769a8" stroke-opacity="0.9" stroke-width="2"/>
<rect x="76.7" y="513.6" width="344.4" height="283.4" fill="none" stroke="#cccccc" stroke-width="2.5"/>
<text x="0" y="0" font-size="22" text-anchor="middle" fill="#262626" transform="translate(99.0,834.9) scale(1,1.110)">0</text>
<text x="0" y="0" font-size="22" text-anchor="middle" fill="#262626" transform="translate(209.8,834.9) scale(1,1.110)">5</text>
<text x="0" y="0" font-size="22" text-anchor="middle" fill="#262626" transform="translate(320.6,834.9) scale(1,1.110)">10</text>
<text x="0" y="0" font-size="22" text-anchor="end" fill="#262626" transform="translate(56.2,786.9) scale(1,1.110)">0</text>
<text x="0" y="0" font-size="22" text-anchor="end" fill="#262626" transform="translate(56.2,695.2) scale(1,1.110)">5</text>
<text x="0" y="0" font-size="22" text-anchor="end" fill="#262626" transform="translate(56.2,603.4) scale(1,1.110)">10</text>
<text x="248.3" y="863.3" font-size="24" text-anchor="middle" fill="#262626">retest</text>
<text x="0" y="0" font-size="24" text-anchor="middle" fill="#262626" transform="translate(16.5,658.6) rotate(-90)">test</text>
<text x="216.2" y="501.9" font-size="21.6" textLength="64.8" lengthAdjust="spacingAndGlyphs" fill="#262626">LF/HF</text>
</g>
<g>
<line x1="555.6" y1="513.6" x2="555.6" y2="797.0" stroke="#cccccc" stroke-width="2.2"/>
<line x1="635.9" y1="513.6" x2="635.9" y2="797.0" stroke="#cccccc" stroke-width="2.2"/>
<line x1="716.3" y1="513.6" x2="716.3" y2="797.0" stroke="#cccccc" stroke-width="2.2"/>
<line x1="796.6" y1="513.6" x2="796.6" y2="797.0" stroke="#cccccc" stroke-width="2.2"/>
<line x1="507.2" y1="770.9" x2="851.9" y2="770.9" stroke="#cccccc" stroke-width="2.2"/>
<line x1="507.2" y1="717.6" x2="851.9" y2="717.6" stroke="#cccccc" stroke-width="2.2"/>
<line x1="507.2" y1="664.6" x2="851.9" y2="664.6" stroke="#cccccc" stroke-width="2.2"/>
<line x1="507.2" y1="611.7" x2="851.9" y2="611.7" stroke="#cccccc" stroke-width="2.2"/>
<line x1="507.2" y1="558.0" x2="851.9" y2="558.0" stroke="#cccccc" stroke-width="2.2"/>
<polygon points="539.5,738.3 546.8,734.3 554.1,730.3 561.4,726.2 568.7,722.1 576.1,717.9 583.4,713.6 590.7,709.2 598.0,704.6 605.3,699.9 612.6,694.9 619.9,689.7 627.2,684.2 634.5,678.5 641.8,672.7 649.2,666.7 656.5,660.6 663.8,654.4 671.1,648.1 678.4,641.8 685.7,635.5 693.0,629.1 700.3,622.7 707.6,616.3 714.9,609.9 722.3,603.4 729.6,597.0 736.9,590.5 744.2,584.0 751.5,577.5 758.8,571.0 766.1,564.6 773.4,558.1 780.7,551.6 788.0,545.1 795.4,538.5 802.7,532.0 810.0,525.5 817.3,519.0 824.6,512.5 824.6,590.5 817.3,594.4 810.0,598.3 802.7,602.2 795.4,606.1 788.0,610.0 780.7,613.9 773.4,617.8 766.1,621.8 758.8,625.7 751.5,629.6 744.2,633.5 736.9,637.5 729.6,641.4 722.3,645.4 714.9,649.4 707.6,653.4 700.3,657.4 693.0,661.4 685.7,665.5 678.4,669.6 671.1,673.7 663.8,677.9 656.5,682.2 649.2,686.5 641.8,691.0 634.5,695.6 627.2,700.4 619.9,705.4 612.6,710.6 605.3,716.0 598.0,721.6 590.7,727.4 583.4,733.3 576.1,739.3 568.7,745.4 561.4,751.5 554.1,757.7 546.8,764.0 539.5,770.3" fill="#4C72B0" fill-opacity="0.15"/>
<line x1="539.5" y1="754.3" x2="824.6" y2="552.5" stroke="#4C72B0" stroke-width="4.2" stroke-linecap="butt"/>
<circle cx="540.8" cy="747.4" r="6.4" fill="#4C72B0" fill-opacity="0.9" stroke="#4769a8" stroke-opacity="0.9" stroke-width="2"/>
<circle cx="555.5" cy="742.2" r="6.4" fill="#4C72B0" fill-opacity="0.9" stroke="#4769a8" stroke-opacity="0.9" stroke-width="2"/>
<circle cx="556.4" cy="748.2" r="6.4" fill="#4C72B0" fill-opacity="0.9" stroke="#4769a8" stroke-opacity="0.9" stroke-width="2"/>
<circle cx="551.2" cy="764.7" r="6.4" fill="#4C72B0" fill-opacity="0.9" stroke="#4769a8" stroke-opacity="0.9" stroke-width="2"/>
<circle cx="568.5" cy="766.4" r="6.4" fill="#4C72B0" fill-opacity="0.9" stroke="#4769a8" stroke-opacity="0.9" stroke-width="2"/>
<circle cx="578.9" cy="764.7" r="6.4" fill="#4C72B0" fill-opacity="0.9" stroke="#4769a8" stroke-opacity="0.9" stroke-width="2"/>
<circle cx="572.0" cy="751.7" r="6.4" fill="#4C72B0" fill-opacity="0.9" stroke="#4769a8" stroke-opacity="0.9" stroke-width="2"/>
<circle cx="566.8" cy="735.2" r="6.4" fill="#4C72B0" fill-opacity="0.9" stroke="#4769a8" stroke-opacity="0.9" stroke-width="2"/>
<circle cx="577.1" cy="731.8" r="6.4" fill="#4C72B0" fill-opacity="0.9" stroke="#4769a8" stroke-opacity="0.9" stroke-width="2"/>
<circle cx="573.7" cy="717.1" r="6.4" fill="#4C72B0" fill-opacity="0.9" stroke="#4769a8" stroke-opacity="0.9" stroke-width="2"/>
<circle cx="561.6" cy="694.5" r="6.4" fill="#4C72B0" fill-opacity="0.9" stroke="#4769a8" stroke-opacity="0.9" stroke-width="2"/>
<circle cx="569.4" cy="699.7" r="6.4" fill="#4C72B0" fill-opacity="0.9" stroke="#4769a8" stroke-opacity="0.9" stroke-width="2"/>
<circle cx="585.8" cy="710.1" r="6.4" fill="#4C72B0" fill-opacity="0.9" stroke="#4769a8" stroke-opacity="0.9" stroke-width="2"/>
<circle cx="594.5" cy="706.7" r="6.4" fill="#4C72B0" fill-opacity="0.9" stroke="#4769a8" stroke-opacity="0.9" stroke-width="2"/>
<circle cx="594.5" cy="723.1" r="6.4" fill="#4C72B0" fill-opacity="0.9" stroke="#4769a8" stroke-opacity="0.9" stroke-width="2"/>
<circle cx="601.4" cy="714.5" r="6.4" fill="#4C72B0" fill-opacity="0.9" stroke="#4769a8" stroke-opacity="0.9" stroke-width="2"/>
<circle cx="606.6" cy="719.7" r="6.4" fill="#4C72B0" fill-opacity="0.9" stroke="#4769a8" stroke-opacity="0.9" stroke-width="2"/>
<circle cx="610.0" cy="709.3" r="6.4" fill="#4C72B0" fill-opacity="0.9" stroke="#4769a8" stroke-opacity="0.9" stroke-width="2"/>
<circle cx="618.7" cy="717.1" r="6.4" fill="#4C72B0" fill-opacity="0.9" stroke="#4769a8" stroke-opacity="0.9" stroke-width="2"/>
<circle cx="628.2" cy="719.7" r="6.4" fill="#4C72B0" fill-opacity="0.9" stroke="#4769a8" stroke-opacity="0.9" stroke-width="2"/>
<circle cx="631.7" cy="709.3" r="6.4" fill="#4C72B0" fill-opacity="0.9" stroke="#4769a8" stroke-opacity="0.9" stroke-width="2"/>
<circle cx="600.5" cy="689.4" r="6.4" fill="#4C72B0" fill-opacity="0.9" stroke="#4769a8" stroke-opacity="0.9" stroke-width="2"/>
<circle cx="615.2" cy="686.8" r="6.4" fill="#4C72B0" fill-opacity="0.9" stroke="#4769a8" stroke-opacity="0.9" stroke-width="2"/>
<circle cx="594.5" cy="743.9" r="6.4" fill="#4C72B0" fill-opacity="0.9" stroke="#4769a8" stroke-opacity="0.9" stroke-width="2"/>
<circle cx="606.6" cy="743.9" r="6.4" fill="#4C72B0" fill-opacity="0.9" stroke="#4769a8" stroke-opacity="0.9" stroke-width="2"/>
<circle cx="615.2" cy="758.6" r="6.4" fill="#4C72B0" fill-opacity="0.9" stroke="#4769a8" stroke-opacity="0.9" stroke-width="2"/>
<circle cx="633.4" cy="737.8" r="6.4" fill="#4C72B0" fill-opacity="0.9" stroke="#4769a8" stroke-opacity="0.9" stroke-width="2"/>
<circle cx="623.0" cy="656.5" r="6.4" fill="#4C72B0" fill-opacity="0.9" stroke="#4769a8" stroke-opacity="0.9" stroke-width="2"/>
<circle cx="629.1" cy="652.1" r="6.4" fill="#4C72B0" fill-opacity="0.9" stroke="#4769a8" stroke-opacity="0.9" stroke-width="2"/>
<circle cx="627.4" cy="662.5" r="6.4" fill="#4C72B0" fill-opacity="0.9" stroke="#4769a8" stroke-opacity="0.9" stroke-width="2"/>
<circle cx="645.5" cy="662.5" r="6.4" fill="#4C72B0" fill-opacity="0.9" stroke="#4769a8" stroke-opacity="0.9" stroke-width="2"/>
<circle cx="652.5" cy="654.7" r="6.4" fill="#4C72B0" fill-opacity="0.9" stroke="#4769a8" stroke-opacity="0.9" stroke-width="2"/>
<circle cx="656.8" cy="664.2" r="6.4" fill="#4C72B0" fill-opacity="0.9" stroke="#4769a8" stroke-opacity="0.9" stroke-width="2"/>
<circle cx="648.1" cy="671.2" r="6.4" fill="#4C72B0" fill-opacity="0.9" stroke="#4769a8" stroke-opacity="0.9" stroke-width="2"/>
<circle cx="654.2" cy="682.4" r="6.4" fill="#4C72B0" fill-opacity="0.9" stroke="#4769a8" stroke-opacity="0.9" stroke-width="2"/>
<circle cx="670.3" cy="689.4" r="6.4" fill="#4C72B0" fill-opacity="0.9" stroke="#4769a8" stroke-opacity="0.9" stroke-width="2"/>
<circle cx="660.3" cy="719.7" r="6.4" fill="#4C72B0" fill-opacity="0.9" stroke="#4769a8" stroke-opacity="0.9" stroke-width="2"/>
<circle cx="666.5" cy="611.0" r="6.4" fill="#4C72B0" fill-opacity="0.9" stroke="#4769a8" stroke-opacity="0.9" stroke-width="2"/>
<circle cx="690.4" cy="611.0" r="6.4" fill="#4C72B0" fill-opacity="0.9" stroke="#4769a8" stroke-opacity="0.9" stroke-width="2"/>
<circle cx="660.4" cy="629.6" r="6.4" fill="#4C72B0" fill-opacity="0.9" stroke="#4769a8" stroke-opacity="0.9" stroke-width="2"/>
<circle cx="693.0" cy="635.7" r="6.4" fill="#4C72B0" fill-opacity="0.9" stroke="#4769a8" stroke-opacity="0.9" stroke-width="2"/>
<circle cx="703.7" cy="652.2" r="6.4" fill="#4C72B0" fill-opacity="0.9" stroke="#4769a8" stroke-opacity="0.9" stroke-width="2"/>
<circle cx="692.2" cy="660.1" r="6.4" fill="#4C72B0" fill-opacity="0.9" stroke="#4769a8" stroke-opacity="0.9" stroke-width="2"/>
<circle cx="735.5" cy="723.9" r="6.4" fill="#4C72B0" fill-opacity="0.9" stroke="#4769a8" stroke-opacity="0.9" stroke-width="2"/>
<circle cx="746.0" cy="615.5" r="6.4" fill="#4C72B0" fill-opacity="0.9" stroke="#4769a8" stroke-opacity="0.9" stroke-width="2"/>
<circle cx="747.5" cy="617.5" r="6.4" fill="#4C72B0" fill-opacity="0.9" stroke="#4769a8" stroke-opacity="0.9" stroke-width="2"/>
<circle cx="824.6" cy="553.8" r="6.4" fill="#4C72B0" fill-opacity="0.9" stroke="#4769a8" stroke-opacity="0.9" stroke-width="2"/>
<rect x="507.2" y="513.6" width="344.7" height="283.4" fill="none" stroke="#cccccc" stroke-width="2.5"/>
<text x="0" y="0" font-size="22" text-anchor="middle" fill="#262626" transform="translate(555.6,834.9) scale(1,1.110)">0.25</text>
<text x="0" y="0" font-size="22" text-anchor="middle" fill="#262626" transform="translate(635.9,834.9) scale(1,1.110)">0.50</text>
<text x="0" y="0" font-size="22" text-anchor="middle" fill="#262626" transform="translate(716.3,834.9) scale(1,1.110)">0.75</text>
<text x="0" y="0" font-size="22" text-anchor="middle" fill="#262626" transform="translate(796.6,834.9) scale(1,1.110)">1.00</text>
<text x="0" y="0" font-size="22" text-anchor="end" fill="#262626" transform="translate(486.7,779.1) scale(1,1.110)">0.2</text>
<text x="0" y="0" font-size="22" text-anchor="end" fill="#262626" transform="translate(486.7,725.8) scale(1,1.110)">0.4</text>
<text x="0" y="0" font-size="22" text-anchor="end" fill="#262626" transform="translate(486.7,672.8) scale(1,1.110)">0.6</text>
<text x="0" y="0" font-size="22" text-anchor="end" fill="#262626" transform="translate(486.7,619.9) scale(1,1.110)">0.8</text>
<text x="0" y="0" font-size="22" text-anchor="end" fill="#262626" transform="translate(486.7,566.2) scale(1,1.110)">1.0</text>
<text x="678.9" y="863.3" font-size="24" text-anchor="middle" fill="#262626">retest</text>
<text x="0" y="0" font-size="24" text-anchor="middle" fill="#262626" transform="translate(440.9,658.6) rotate(-90)">test</text>
<text x="628.9" y="502.3" font-size="21.6" textLength="99.3" lengthAdjust="spacingAndGlyphs" fill="#262626">SD1/SD2</text>
</g>
<g>
<line x1="970.7" y1="513.6" x2="970.7" y2="797.0" stroke="#cccccc" stroke-width="2.2"/>
<line x1="1075.0" y1="513.6" x2="1075.0" y2="797.0" stroke="#cccccc" stroke-width="2.2"/>
<line x1="1179.3" y1="513.6" x2="1179.3" y2="797.0" stroke="#cccccc" stroke-width="2.2"/>
<line x1="937.8" y1="773.2" x2="1282.8" y2="773.2" stroke="#cccccc" stroke-width="2.2"/>
<line x1="937.8" y1="684.7" x2="1282.8" y2="684.7" stroke="#cccccc" stroke-width="2.2"/>
<line x1="937.8" y1="599.1" x2="1282.8" y2="599.1" stroke="#cccccc" stroke-width="2.2"/>
<polygon points="980.9,685.0 988.3,682.3 995.7,679.6 1003.1,676.9 1010.4,674.1 1017.8,671.4 1025.2,668.6 1032.6,665.8 1040.0,663.0 1047.4,660.1 1054.8,657.2 1062.2,654.3 1069.5,651.3 1076.9,648.2 1084.3,645.1 1091.7,641.8 1099.1,638.5 1106.5,635.0 1113.9,631.5 1121.3,627.7 1128.6,623.8 1136.0,619.7 1143.4,615.5 1150.8,611.2 1158.2,606.7 1165.6,602.1 1173.0,597.3 1180.4,592.5 1187.7,587.6 1195.1,582.7 1202.5,577.7 1209.9,572.7 1217.3,567.6 1224.7,562.5 1232.1,557.4 1239.5,552.2 1246.8,547.0 1254.2,541.8 1261.6,536.6 1269.0,531.4 1269.0,596.4 1261.6,598.8 1254.2,601.3 1246.8,603.7 1239.5,606.2 1232.1,608.7 1224.7,611.1 1217.3,613.7 1209.9,616.2 1202.5,618.8 1195.1,621.3 1187.7,624.0 1180.4,626.7 1173.0,629.4 1165.6,632.2 1158.2,635.1 1150.8,638.1 1143.4,641.3 1136.0,644.6 1128.6,648.0 1121.3,651.7 1113.9,655.6 1106.5,659.7 1099.1,664.1 1091.7,668.6 1084.3,673.3 1076.9,678.1 1069.5,683.1 1062.2,688.1 1054.8,693.3 1047.4,698.5 1040.0,703.8 1032.6,709.1 1025.2,714.4 1017.8,719.8 1010.4,725.2 1003.1,730.6 995.7,736.1 988.3,741.5 980.9,747.0" fill="#4C72B0" fill-opacity="0.15"/>
<line x1="980.9" y1="715.0" x2="1269.0" y2="560.4" stroke="#4C72B0" stroke-width="4.2" stroke-linecap="butt"/>
<circle cx="980.9" cy="738.3" r="6.4" fill="#4C72B0" fill-opacity="0.9" stroke="#4769a8" stroke-opacity="0.9" stroke-width="2"/>
<circle cx="1023.7" cy="770.8" r="6.4" fill="#4C72B0" fill-opacity="0.9" stroke="#4769a8" stroke-opacity="0.9" stroke-width="2"/>
<circle cx="1064.3" cy="742.2" r="6.4" fill="#4C72B0" fill-opacity="0.9" stroke="#4769a8" stroke-opacity="0.9" stroke-width="2"/>
<circle cx="1005.4" cy="653.8" r="6.4" fill="#4C72B0" fill-opacity="0.9" stroke="#4769a8" stroke-opacity="0.9" stroke-width="2"/>
<circle cx="1035.7" cy="666.5" r="6.4" fill="#4C72B0" fill-opacity="0.9" stroke="#4769a8" stroke-opacity="0.9" stroke-width="2"/>
<circle cx="1056.2" cy="684.5" r="6.4" fill="#4C72B0" fill-opacity="0.9" stroke="#4769a8" stroke-opacity="0.9" stroke-width="2"/>
<circle cx="1076.3" cy="684.5" r="6.4" fill="#4C72B0" fill-opacity="0.9" stroke="#4769a8" stroke-opacity="0.9" stroke-width="2"/>
<circle cx="1058.4" cy="647.9" r="6.4" fill="#4C72B0" fill-opacity="0.9" stroke="#4769a8" stroke-opacity="0.9" stroke-width="2"/>
<circle cx="1066.5" cy="637.6" r="6.4" fill="#4C72B0" fill-opacity="0.9" stroke="#4769a8" stroke-opacity="0.9" stroke-width="2"/>
<circle cx="1064.5" cy="617.3" r="6.4" fill="#4C72B0" fill-opacity="0.9" stroke="#4769a8" stroke-opacity="0.9" stroke-width="2"/>
<circle cx="1082.8" cy="647.9" r="6.4" fill="#4C72B0" fill-opacity="0.9" stroke="#4769a8" stroke-opacity="0.9" stroke-width="2"/>
<circle cx="1086.9" cy="666.5" r="6.4" fill="#4C72B0" fill-opacity="0.9" stroke="#4769a8" stroke-opacity="0.9" stroke-width="2"/>
<circle cx="1097.2" cy="639.9" r="6.4" fill="#4C72B0" fill-opacity="0.9" stroke="#4769a8" stroke-opacity="0.9" stroke-width="2"/>
<circle cx="1105.0" cy="653.5" r="6.4" fill="#4C72B0" fill-opacity="0.9" stroke="#4769a8" stroke-opacity="0.9" stroke-width="2"/>
<circle cx="1109.4" cy="611.1" r="6.4" fill="#4C72B0" fill-opacity="0.9" stroke="#4769a8" stroke-opacity="0.9" stroke-width="2"/>
<circle cx="1093.2" cy="599.0" r="6.4" fill="#4C72B0" fill-opacity="0.9" stroke="#4769a8" stroke-opacity="0.9" stroke-width="2"/>
<circle cx="1107.1" cy="715.2" r="6.4" fill="#4C72B0" fill-opacity="0.9" stroke="#4769a8" stroke-opacity="0.9" stroke-width="2"/>
<circle cx="1113.4" cy="707.3" r="6.4" fill="#4C72B0" fill-opacity="0.9" stroke="#4769a8" stroke-opacity="0.9" stroke-width="2"/>
<circle cx="1115.4" cy="655.5" r="6.4" fill="#4C72B0" fill-opacity="0.9" stroke="#4769a8" stroke-opacity="0.9" stroke-width="2"/>
<circle cx="1119.0" cy="664.4" r="6.4" fill="#4C72B0" fill-opacity="0.9" stroke="#4769a8" stroke-opacity="0.9" stroke-width="2"/>
<circle cx="1133.8" cy="666.7" r="6.4" fill="#4C72B0" fill-opacity="0.9" stroke="#4769a8" stroke-opacity="0.9" stroke-width="2"/>
<circle cx="1145.9" cy="672.4" r="6.4" fill="#4C72B0" fill-opacity="0.9" stroke="#4769a8" stroke-opacity="0.9" stroke-width="2"/>
<circle cx="1166.7" cy="669.0" r="6.4" fill="#4C72B0" fill-opacity="0.9" stroke="#4769a8" stroke-opacity="0.9" stroke-width="2"/>
<circle cx="1182.8" cy="666.7" r="6.4" fill="#4C72B0" fill-opacity="0.9" stroke="#4769a8" stroke-opacity="0.9" stroke-width="2"/>
<circle cx="1201.3" cy="664.3" r="6.4" fill="#4C72B0" fill-opacity="0.9" stroke="#4769a8" stroke-opacity="0.9" stroke-width="2"/>
<circle cx="1123.6" cy="678.8" r="6.4" fill="#4C72B0" fill-opacity="0.9" stroke="#4769a8" stroke-opacity="0.9" stroke-width="2"/>
<circle cx="1215.2" cy="689.0" r="6.4" fill="#4C72B0" fill-opacity="0.9" stroke="#4769a8" stroke-opacity="0.9" stroke-width="2"/>
<circle cx="1121.6" cy="695.1" r="6.4" fill="#4C72B0" fill-opacity="0.9" stroke="#4769a8" stroke-opacity="0.9" stroke-width="2"/>
<circle cx="1123.5" cy="635.5" r="6.4" fill="#4C72B0" fill-opacity="0.9" stroke="#4769a8" stroke-opacity="0.9" stroke-width="2"/>
<circle cx="1125.0" cy="641.0" r="6.4" fill="#4C72B0" fill-opacity="0.9" stroke="#4769a8" stroke-opacity="0.9" stroke-width="2"/>
<circle cx="1129.3" cy="627.4" r="6.4" fill="#4C72B0" fill-opacity="0.9" stroke="#4769a8" stroke-opacity="0.9" stroke-width="2"/>
<circle cx="1142.0" cy="619.3" r="6.4" fill="#4C72B0" fill-opacity="0.9" stroke="#4769a8" stroke-opacity="0.9" stroke-width="2"/>
<circle cx="1152.4" cy="607.3" r="6.4" fill="#4C72B0" fill-opacity="0.9" stroke="#4769a8" stroke-opacity="0.9" stroke-width="2"/>
<circle cx="1178.9" cy="621.2" r="6.4" fill="#4C72B0" fill-opacity="0.9" stroke="#4769a8" stroke-opacity="0.9" stroke-width="2"/>
<circle cx="1189.3" cy="611.2" r="6.4" fill="#4C72B0" fill-opacity="0.9" stroke="#4769a8" stroke-opacity="0.9" stroke-width="2"/>
<circle cx="1202.0" cy="608.9" r="6.4" fill="#4C72B0" fill-opacity="0.9" stroke="#4769a8" stroke-opacity="0.9" stroke-width="2"/>
<circle cx="1172.0" cy="592.7" r="6.4" fill="#4C72B0" fill-opacity="0.9" stroke="#4769a8" stroke-opacity="0.9" stroke-width="2"/>
<circle cx="1184.7" cy="591.1" r="6.4" fill="#4C72B0" fill-opacity="0.9" stroke="#4769a8" stroke-opacity="0.9" stroke-width="2"/>
<circle cx="1152.4" cy="585.1" r="6.4" fill="#4C72B0" fill-opacity="0.9" stroke="#4769a8" stroke-opacity="0.9" stroke-width="2"/>
<circle cx="1156.5" cy="570.3" r="6.4" fill="#4C72B0" fill-opacity="0.9" stroke="#4769a8" stroke-opacity="0.9" stroke-width="2"/>
<circle cx="1127.6" cy="581.2" r="6.4" fill="#4C72B0" fill-opacity="0.9" stroke="#4769a8" stroke-opacity="0.9" stroke-width="2"/>
<circle cx="1109.6" cy="562.7" r="6.4" fill="#4C72B0" fill-opacity="0.9" stroke="#4769a8" stroke-opacity="0.9" stroke-width="2"/>
<circle cx="1182.8" cy="544.2" r="6.4" fill="#4C72B0" fill-opacity="0.9" stroke="#4769a8" stroke-opacity="0.9" stroke-width="2"/>
<circle cx="1199.0" cy="549.0" r="6.4" fill="#4C72B0" fill-opacity="0.9" stroke="#4769a8" stroke-opacity="0.9" stroke-width="2"/>
<circle cx="1199.0" cy="555.0" r="6.4" fill="#4C72B0" fill-opacity="0.9" stroke="#4769a8" stroke-opacity="0.9" stroke-width="2"/>
<circle cx="1199.0" cy="565.0" r="6.4" fill="#4C72B0" fill-opacity="0.9" stroke="#4769a8" stroke-opacity="0.9" stroke-width="2"/>
<circle cx="1199.0" cy="572.0" r="6.4" fill="#4C72B0" fill-opacity="0.9" stroke="#4769a8" stroke-opacity="0.9" stroke-width="2"/>
<circle cx="1269.0" cy="545.4" r="6.4" fill="#4C72B0" fill-opacity="0.9" stroke="#4769a8" stroke-opacity="0.9" stroke-width="2"/>
<rect x="937.8" y="513.6" width="345.0" height="283.4" fill="none" stroke="#cccccc" stroke-width="2.5"/>
<text x="0" y="0" font-size="22" text-anchor="middle" fill="#262626" transform="translate(970.7,834.9) scale(1,1.110)">1.0</text>
<text x="0" y="0" font-size="22" text-anchor="middle" fill="#262626" transform="translate(1075.0,834.9) scale(1,1.110)">1.5</text>
<text x="0" y="0" font-size="22" text-anchor="middle" fill="#262626" transform="translate(1179.3,834.9) scale(1,1.110)">2.0</text>
<text x="0" y="0" font-size="22" text-anchor="middle" fill="#262626" transform="translate(1283.6,834.9) scale(1,1.110)">2.5</text>
<text x="0" y="0" font-size="22" text-anchor="end" fill="#262626" transform="translate(917.3,781.4) scale(1,1.110)">1.0</text>
<text x="0" y="0" font-size="22" text-anchor="end" fill="#262626" transform="translate(917.3,692.9) scale(1,1.110)">1.5</text>
<text x="0" y="0" font-size="22" text-anchor="end" fill="#262626" transform="translate(917.3,607.3) scale(1,1.110)">2.0</text>
<text x="0" y="0" font-size="22" text-anchor="end" fill="#262626" transform="translate(917.3,521.8) scale(1,1.110)">2.5</text>
<text x="1109.7" y="863.3" font-size="24" text-anchor="middle" fill="#262626">retest</text>
<text x="0" y="0" font-size="24" text-anchor="middle" fill="#262626" transform="translate(871.5,658.6) rotate(-90)">test</text>
<text x="1033.3" y="502.5" font-size="21.6" textLength="155.0" lengthAdjust="spacingAndGlyphs" fill="#262626">SampEn [a.u.]</text>
</g>
<g>
<line x1="1413.5" y1="513.6" x2="1413.5" y2="797.0" stroke="#cccccc" stroke-width="2.2"/>
<line x1="1502.1" y1="513.6" x2="1502.1" y2="797.0" stroke="#cccccc" stroke-width="2.2"/>
<line x1="1590.7" y1="513.6" x2="1590.7" y2="797.0" stroke="#cccccc" stroke-width="2.2"/>
<line x1="1679.3" y1="513.6" x2="1679.3" y2="797.0" stroke="#cccccc" stroke-width="2.2"/>
<line x1="1368.6" y1="761.3" x2="1713.6" y2="761.3" stroke="#cccccc" stroke-width="2.2"/>
<line x1="1368.6" y1="688.6" x2="1713.6" y2="688.6" stroke="#cccccc" stroke-width="2.2"/>
<line x1="1368.6" y1="615.2" x2="1713.6" y2="615.2" stroke="#cccccc" stroke-width="2.2"/>
<line x1="1368.6" y1="542.2" x2="1713.6" y2="542.2" stroke="#cccccc" stroke-width="2.2"/>
<polygon points="1388.0,692.0 1395.7,689.7 1403.5,687.4 1411.2,685.1 1418.9,682.8 1426.7,680.5 1434.4,678.2 1442.1,675.8 1449.8,673.5 1457.6,671.1 1465.3,668.7 1473.0,666.2 1480.8,663.8 1488.5,661.3 1496.2,658.7 1504.0,656.1 1511.7,653.4 1519.4,650.6 1527.2,647.8 1534.9,644.8 1542.6,641.7 1550.3,638.4 1558.1,634.9 1565.8,631.2 1573.5,627.3 1581.3,623.2 1589.0,618.9 1596.7,614.4 1604.5,609.7 1612.2,604.9 1619.9,600.0 1627.7,594.9 1635.4,589.8 1643.1,584.6 1650.8,579.4 1658.6,574.1 1666.3,568.7 1674.0,563.3 1681.8,557.9 1689.5,552.5 1689.5,611.5 1681.8,613.9 1674.0,616.3 1666.3,618.7 1658.6,621.1 1650.8,623.7 1643.1,626.2 1635.4,628.9 1627.7,631.6 1619.9,634.4 1612.2,637.3 1604.5,640.4 1596.7,643.7 1589.0,647.1 1581.3,650.8 1573.5,654.6 1565.8,658.8 1558.1,663.1 1550.3,667.6 1542.6,672.3 1534.9,677.2 1527.2,682.2 1519.4,687.3 1511.7,692.4 1504.0,697.7 1496.2,703.0 1488.5,708.3 1480.8,713.7 1473.0,719.1 1465.3,724.6 1457.6,730.1 1449.8,735.6 1442.1,741.1 1434.4,746.6 1426.7,752.2 1418.9,757.7 1411.2,763.3 1403.5,768.8 1395.7,774.4 1388.0,780.0" fill="#4C72B0" fill-opacity="0.15"/>
<line x1="1388.0" y1="735.0" x2="1689.5" y2="582.5" stroke="#4C72B0" stroke-width="4.2" stroke-linecap="butt"/>
<circle cx="1389.3" cy="756.4" r="6.4" fill="#4C72B0" fill-opacity="0.9" stroke="#4769a8" stroke-opacity="0.9" stroke-width="2"/>
<circle cx="1458.4" cy="781.0" r="6.4" fill="#4C72B0" fill-opacity="0.9" stroke="#4769a8" stroke-opacity="0.9" stroke-width="2"/>
<circle cx="1420.0" cy="668.7" r="6.4" fill="#4C72B0" fill-opacity="0.9" stroke="#4769a8" stroke-opacity="0.9" stroke-width="2"/>
<circle cx="1425.9" cy="643.9" r="6.4" fill="#4C72B0" fill-opacity="0.9" stroke="#4769a8" stroke-opacity="0.9" stroke-width="2"/>
<circle cx="1466.5" cy="654.4" r="6.4" fill="#4C72B0" fill-opacity="0.9" stroke="#4769a8" stroke-opacity="0.9" stroke-width="2"/>
<circle cx="1480.8" cy="641.7" r="6.4" fill="#4C72B0" fill-opacity="0.9" stroke="#4769a8" stroke-opacity="0.9" stroke-width="2"/>
<circle cx="1485.2" cy="672.4" r="6.4" fill="#4C72B0" fill-opacity="0.9" stroke="#4769a8" stroke-opacity="0.9" stroke-width="2"/>
<circle cx="1468.7" cy="697.6" r="6.4" fill="#4C72B0" fill-opacity="0.9" stroke="#4769a8" stroke-opacity="0.9" stroke-width="2"/>
<circle cx="1503.4" cy="631.8" r="6.4" fill="#4C72B0" fill-opacity="0.9" stroke="#4769a8" stroke-opacity="0.9" stroke-width="2"/>
<circle cx="1523.6" cy="620.8" r="6.4" fill="#4C72B0" fill-opacity="0.9" stroke="#4769a8" stroke-opacity="0.9" stroke-width="2"/>
<circle cx="1530.2" cy="618.6" r="6.4" fill="#4C72B0" fill-opacity="0.9" stroke="#4769a8" stroke-opacity="0.9" stroke-width="2"/>
<circle cx="1527.5" cy="628.0" r="6.4" fill="#4C72B0" fill-opacity="0.9" stroke="#4769a8" stroke-opacity="0.9" stroke-width="2"/>
<circle cx="1538.0" cy="596.0" r="6.4" fill="#4C72B0" fill-opacity="0.9" stroke="#4769a8" stroke-opacity="0.9" stroke-width="2"/>
<circle cx="1534.2" cy="689.0" r="6.4" fill="#4C72B0" fill-opacity="0.9" stroke="#4769a8" stroke-opacity="0.9" stroke-width="2"/>
<circle cx="1489.1" cy="736.0" r="6.4" fill="#4C72B0" fill-opacity="0.9" stroke="#4769a8" stroke-opacity="0.9" stroke-width="2"/>
<circle cx="1511.5" cy="733.8" r="6.4" fill="#4C72B0" fill-opacity="0.9" stroke="#4769a8" stroke-opacity="0.9" stroke-width="2"/>
<circle cx="1528.0" cy="733.8" r="6.4" fill="#4C72B0" fill-opacity="0.9" stroke="#4769a8" stroke-opacity="0.9" stroke-width="2"/>
<circle cx="1562.4" cy="664.6" r="6.4" fill="#4C72B0" fill-opacity="0.9" stroke="#4769a8" stroke-opacity="0.9" stroke-width="2"/>
<circle cx="1564.9" cy="740.2" r="6.4" fill="#4C72B0" fill-opacity="0.9" stroke="#4769a8" stroke-opacity="0.9" stroke-width="2"/>
<circle cx="1689.5" cy="535.8" r="6.4" fill="#4C72B0" fill-opacity="0.9" stroke="#4769a8" stroke-opacity="0.9" stroke-width="2"/>
<circle cx="1591.5" cy="556.0" r="6.4" fill="#4C72B0" fill-opacity="0.9" stroke="#4769a8" stroke-opacity="0.9" stroke-width="2"/>
<circle cx="1544.4" cy="568.5" r="6.4" fill="#4C72B0" fill-opacity="0.9" stroke="#4769a8" stroke-opacity="0.9" stroke-width="2"/>
<circle cx="1585.1" cy="574.6" r="6.4" fill="#4C72B0" fill-opacity="0.9" stroke="#4769a8" stroke-opacity="0.9" stroke-width="2"/>
<circle cx="1623.3" cy="574.6" r="6.4" fill="#4C72B0" fill-opacity="0.9" stroke="#4769a8" stroke-opacity="0.9" stroke-width="2"/>
<circle cx="1634.1" cy="572.1" r="6.4" fill="#4C72B0" fill-opacity="0.9" stroke="#4769a8" stroke-opacity="0.9" stroke-width="2"/>
<circle cx="1546.3" cy="585.1" r="6.4" fill="#4C72B0" fill-opacity="0.9" stroke="#4769a8" stroke-opacity="0.9" stroke-width="2"/>
<circle cx="1565.7" cy="592.6" r="6.4" fill="#4C72B0" fill-opacity="0.9" stroke="#4769a8" stroke-opacity="0.9" stroke-width="2"/>
<circle cx="1570.4" cy="599.5" r="6.4" fill="#4C72B0" fill-opacity="0.9" stroke="#4769a8" stroke-opacity="0.9" stroke-width="2"/>
<circle cx="1621.7" cy="600.9" r="6.4" fill="#4C72B0" fill-opacity="0.9" stroke="#4769a8" stroke-opacity="0.9" stroke-width="2"/>
<circle cx="1597.0" cy="608.6" r="6.4" fill="#4C72B0" fill-opacity="0.9" stroke="#4769a8" stroke-opacity="0.9" stroke-width="2"/>
<circle cx="1601.7" cy="617.0" r="6.4" fill="#4C72B0" fill-opacity="0.9" stroke="#4769a8" stroke-opacity="0.9" stroke-width="2"/>
<circle cx="1566.5" cy="615.6" r="6.4" fill="#4C72B0" fill-opacity="0.9" stroke="#4769a8" stroke-opacity="0.9" stroke-width="2"/>
<circle cx="1580.9" cy="619.2" r="6.4" fill="#4C72B0" fill-opacity="0.9" stroke="#4769a8" stroke-opacity="0.9" stroke-width="2"/>
<circle cx="1646.0" cy="623.9" r="6.4" fill="#4C72B0" fill-opacity="0.9" stroke="#4769a8" stroke-opacity="0.9" stroke-width="2"/>
<circle cx="1654.3" cy="619.2" r="6.4" fill="#4C72B0" fill-opacity="0.9" stroke="#4769a8" stroke-opacity="0.9" stroke-width="2"/>
<circle cx="1672.9" cy="625.8" r="6.4" fill="#4C72B0" fill-opacity="0.9" stroke="#4769a8" stroke-opacity="0.9" stroke-width="2"/>
<circle cx="1576.8" cy="633.6" r="6.4" fill="#4C72B0" fill-opacity="0.9" stroke="#4769a8" stroke-opacity="0.9" stroke-width="2"/>
<circle cx="1587.9" cy="637.7" r="6.4" fill="#4C72B0" fill-opacity="0.9" stroke="#4769a8" stroke-opacity="0.9" stroke-width="2"/>
<circle cx="1596.2" cy="633.0" r="6.4" fill="#4C72B0" fill-opacity="0.9" stroke="#4769a8" stroke-opacity="0.9" stroke-width="2"/>
<circle cx="1574.0" cy="640.5" r="6.4" fill="#4C72B0" fill-opacity="0.9" stroke="#4769a8" stroke-opacity="0.9" stroke-width="2"/>
<circle cx="1630.2" cy="637.7" r="6.4" fill="#4C72B0" fill-opacity="0.9" stroke="#4769a8" stroke-opacity="0.9" stroke-width="2"/>
<circle cx="1580.9" cy="654.3" r="6.4" fill="#4C72B0" fill-opacity="0.9" stroke="#4769a8" stroke-opacity="0.9" stroke-width="2"/>
<circle cx="1597.0" cy="662.7" r="6.4" fill="#4C72B0" fill-opacity="0.9" stroke="#4769a8" stroke-opacity="0.9" stroke-width="2"/>
<circle cx="1594.8" cy="693.1" r="6.4" fill="#4C72B0" fill-opacity="0.9" stroke="#4769a8" stroke-opacity="0.9" stroke-width="2"/>
<circle cx="1589.3" cy="736.1" r="6.4" fill="#4C72B0" fill-opacity="0.9" stroke="#4769a8" stroke-opacity="0.9" stroke-width="2"/>
<circle cx="1615.6" cy="729.7" r="6.4" fill="#4C72B0" fill-opacity="0.9" stroke="#4769a8" stroke-opacity="0.9" stroke-width="2"/>
<rect x="1368.6" y="513.6" width="345.0" height="283.4" fill="none" stroke="#cccccc" stroke-width="2.5"/>
<text x="0" y="0" font-size="22" text-anchor="middle" fill="#262626" transform="translate(1413.5,834.9) scale(1,1.110)">0.9</text>
<text x="0" y="0" font-size="22" text-anchor="middle" fill="#262626" transform="translate(1502.1,834.9) scale(1,1.110)">1.0</text>
<text x="0" y="0" font-size="22" text-anchor="middle" fill="#262626" transform="translate(1590.7,834.9) scale(1,1.110)">1.1</text>
<text x="0" y="0" font-size="22" text-anchor="middle" fill="#262626" transform="translate(1679.3,834.9) scale(1,1.110)">1.2</text>
<text x="0" y="0" font-size="22" text-anchor="end" fill="#262626" transform="translate(1348.1,769.5) scale(1,1.110)">0.9</text>
<text x="0" y="0" font-size="22" text-anchor="end" fill="#262626" transform="translate(1348.1,696.8) scale(1,1.110)">1.0</text>
<text x="0" y="0" font-size="22" text-anchor="end" fill="#262626" transform="translate(1348.1,623.4) scale(1,1.110)">1.1</text>
<text x="0" y="0" font-size="22" text-anchor="end" fill="#262626" transform="translate(1348.1,550.4) scale(1,1.110)">1.2</text>
<text x="1540.5" y="863.3" font-size="24" text-anchor="middle" fill="#262626">retest</text>
<text x="0" y="0" font-size="24" text-anchor="middle" fill="#262626" transform="translate(1302.3,658.6) rotate(-90)">test</text>
<text x="1482.6" y="502.4" font-size="21.6" textLength="119.0" lengthAdjust="spacingAndGlyphs" fill="#262626">ApEn [a.u.]</text>
</g>
</svg>
</body></html>
